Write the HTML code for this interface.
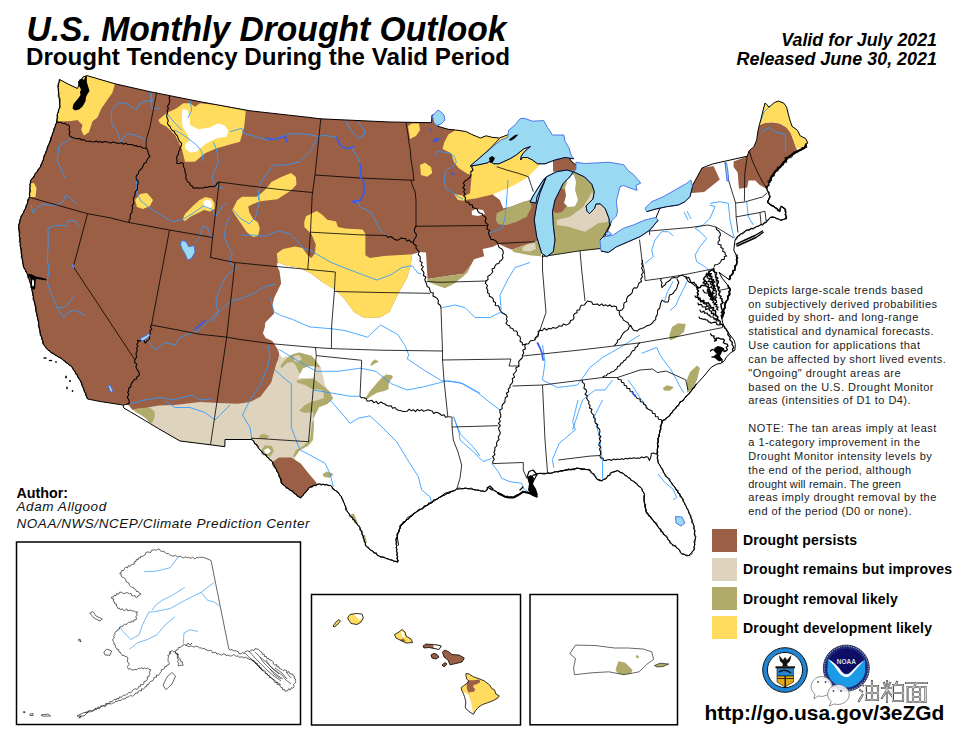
<!DOCTYPE html>
<html><head><meta charset="utf-8">
<style>
html,body{margin:0;padding:0;background:#fff;width:960px;height:735px;overflow:hidden}
svg{position:absolute;left:0;top:0;font-family:"Liberation Sans",sans-serif}
</style></head>
<body>
<svg width="960" height="735" viewBox="0 0 960 735">
<defs><clipPath id="us"><polygon points="59.4,79.4 68.0,84.0 77.5,88.5 80.0,82.0 83.0,77.0 86.9,75.6 115.0,83.8 150.0,91.7 200.0,101.7 250.0,110.8 310.0,117.5 320.0,118.8 390.0,122.0 431.6,122.7 432.0,115.0 438.0,115.0 438.1,126.4 448.3,129.3 455.6,130.0 465.8,131.5 471.7,134.4 480.4,138.0 486.2,135.8 492.0,137.3 499.4,138.0 515.0,132.0 535.0,130.0 550.0,140.0 565.0,152.0 572.0,162.0 585.0,172.0 605.0,185.0 614.0,200.0 612.0,215.0 610.5,225.0 608.0,230.0 606.0,234.0 604.0,238.0 612.0,240.0 625.0,236.0 640.0,229.0 655.0,220.0 660.0,208.0 675.0,198.0 690.0,190.0 702.0,168.0 712.5,164.0 747.2,156.2 749.2,150.7 754.0,146.7 756.7,139.9 758.1,130.3 759.4,124.9 760.8,119.5 764.9,103.2 766.9,104.5 768.9,107.2 774.4,102.5 778.5,101.1 783.9,103.2 786.6,107.2 789.3,118.1 792.0,126.3 797.5,130.3 800.2,135.8 805.6,138.5 807.7,142.6 804.3,148.0 796.1,152.1 788.0,157.5 781.2,165.7 775.7,171.1 771.7,176.6 768.9,183.4 766.9,188.8 770.0,196.2 767.5,202.5 775.0,207.5 780.0,211.2 781.2,206.2 785.0,208.8 786.2,218.8 780.0,220.0 775.0,217.5 770.0,217.5 766.2,222.5 755.0,227.5 745.0,231.2 737.5,236.2 735.0,240.0 733.8,250.0 736.1,255.0 737.1,261.1 735.1,268.3 731.0,275.4 729.0,279.5 724.0,276.0 719.0,272.3 722.0,278.0 726.0,283.0 728.0,285.6 730.0,288.7 728.0,297.9 724.9,306.0 722.9,316.2 721.8,318.0 722.8,323.2 724.3,326.5 729.2,333.9 734.1,340.4 735.3,344.5 734.9,350.2 730.8,352.7 726.7,356.7 724.3,360.8 721.0,363.3 716.9,364.1 711.2,367.3 707.1,372.2 703.1,377.1 696.6,384.1 687.9,395.0 679.2,403.7 668.3,416.8 662.0,421.7 658.0,440.0 657.1,453.6 658.0,462.1 664.8,474.0 675.0,487.6 681.8,497.8 688.6,511.4 693.7,525.0 695.4,538.6 693.7,550.5 688.6,555.6 681.8,553.9 678.4,548.8 671.6,543.7 664.8,535.2 658.0,526.7 652.9,519.9 646.1,511.4 644.4,502.9 644.4,494.4 641.0,487.6 632.5,480.8 624.0,474.0 617.2,470.6 612.1,472.3 607.0,477.4 601.9,480.8 596.8,479.1 590.0,470.0 578.3,468.3 566.7,470.0 556.7,471.7 550.0,473.3 540.0,473.3 533.3,475.0 530.0,481.7 533.3,488.3 536.7,496.7 530.0,493.3 523.3,491.7 518.3,495.0 513.3,497.5 505.0,496.7 498.3,493.3 493.3,490.0 488.3,487.5 485.0,491.7 476.7,490.0 466.7,488.3 456.7,489.2 447.8,493.4 435.3,499.6 416.5,512.0 400.8,524.7 396.0,540.3 397.7,562.2 379.0,556.0 366.4,546.6 360.0,527.8 347.6,512.0 341.4,496.5 330.4,485.5 319.5,484.0 310.0,487.0 300.7,498.0 282.0,484.0 278.8,474.6 272.5,462.0 260.0,450.0 252.5,440.0 251.0,439.5 225.0,439.5 224.8,446.7 210.5,444.8 180.0,441.0 158.8,428.8 149.4,423.1 140.0,417.5 130.6,411.9 123.8,408.1 123.1,405.0 100.0,401.5 87.5,399.0 84.0,390.0 80.0,380.0 72.0,367.0 62.0,359.0 55.0,355.0 48.0,350.0 43.8,345.0 40.0,332.0 38.6,323.3 34.8,304.3 31.0,285.2 27.2,273.8 23.3,266.2 20.5,247.1 18.6,226.2 20.5,218.6 25.2,209.0 29.4,197.3 30.4,181.0 40.6,166.7 48.8,144.3 53.9,130.0 56.9,121.2 57.5,113.8 60.0,106.0 58.1,87.5"/></clipPath></defs>
<polygon points="59.4,79.4 68.0,84.0 77.5,88.5 80.0,82.0 83.0,77.0 86.9,75.6 115.0,83.8 150.0,91.7 200.0,101.7 250.0,110.8 310.0,117.5 320.0,118.8 390.0,122.0 431.6,122.7 432.0,115.0 438.0,115.0 438.1,126.4 448.3,129.3 455.6,130.0 465.8,131.5 471.7,134.4 480.4,138.0 486.2,135.8 492.0,137.3 499.4,138.0 515.0,132.0 535.0,130.0 550.0,140.0 565.0,152.0 572.0,162.0 585.0,172.0 605.0,185.0 614.0,200.0 612.0,215.0 610.5,225.0 608.0,230.0 606.0,234.0 604.0,238.0 612.0,240.0 625.0,236.0 640.0,229.0 655.0,220.0 660.0,208.0 675.0,198.0 690.0,190.0 702.0,168.0 712.5,164.0 747.2,156.2 749.2,150.7 754.0,146.7 756.7,139.9 758.1,130.3 759.4,124.9 760.8,119.5 764.9,103.2 766.9,104.5 768.9,107.2 774.4,102.5 778.5,101.1 783.9,103.2 786.6,107.2 789.3,118.1 792.0,126.3 797.5,130.3 800.2,135.8 805.6,138.5 807.7,142.6 804.3,148.0 796.1,152.1 788.0,157.5 781.2,165.7 775.7,171.1 771.7,176.6 768.9,183.4 766.9,188.8 770.0,196.2 767.5,202.5 775.0,207.5 780.0,211.2 781.2,206.2 785.0,208.8 786.2,218.8 780.0,220.0 775.0,217.5 770.0,217.5 766.2,222.5 755.0,227.5 745.0,231.2 737.5,236.2 735.0,240.0 733.8,250.0 736.1,255.0 737.1,261.1 735.1,268.3 731.0,275.4 729.0,279.5 724.0,276.0 719.0,272.3 722.0,278.0 726.0,283.0 728.0,285.6 730.0,288.7 728.0,297.9 724.9,306.0 722.9,316.2 721.8,318.0 722.8,323.2 724.3,326.5 729.2,333.9 734.1,340.4 735.3,344.5 734.9,350.2 730.8,352.7 726.7,356.7 724.3,360.8 721.0,363.3 716.9,364.1 711.2,367.3 707.1,372.2 703.1,377.1 696.6,384.1 687.9,395.0 679.2,403.7 668.3,416.8 662.0,421.7 658.0,440.0 657.1,453.6 658.0,462.1 664.8,474.0 675.0,487.6 681.8,497.8 688.6,511.4 693.7,525.0 695.4,538.6 693.7,550.5 688.6,555.6 681.8,553.9 678.4,548.8 671.6,543.7 664.8,535.2 658.0,526.7 652.9,519.9 646.1,511.4 644.4,502.9 644.4,494.4 641.0,487.6 632.5,480.8 624.0,474.0 617.2,470.6 612.1,472.3 607.0,477.4 601.9,480.8 596.8,479.1 590.0,470.0 578.3,468.3 566.7,470.0 556.7,471.7 550.0,473.3 540.0,473.3 533.3,475.0 530.0,481.7 533.3,488.3 536.7,496.7 530.0,493.3 523.3,491.7 518.3,495.0 513.3,497.5 505.0,496.7 498.3,493.3 493.3,490.0 488.3,487.5 485.0,491.7 476.7,490.0 466.7,488.3 456.7,489.2 447.8,493.4 435.3,499.6 416.5,512.0 400.8,524.7 396.0,540.3 397.7,562.2 379.0,556.0 366.4,546.6 360.0,527.8 347.6,512.0 341.4,496.5 330.4,485.5 319.5,484.0 310.0,487.0 300.7,498.0 282.0,484.0 278.8,474.6 272.5,462.0 260.0,450.0 252.5,440.0 251.0,439.5 225.0,439.5 224.8,446.7 210.5,444.8 180.0,441.0 158.8,428.8 149.4,423.1 140.0,417.5 130.6,411.9 123.8,408.1 123.1,405.0 100.0,401.5 87.5,399.0 84.0,390.0 80.0,380.0 72.0,367.0 62.0,359.0 55.0,355.0 48.0,350.0 43.8,345.0 40.0,332.0 38.6,323.3 34.8,304.3 31.0,285.2 27.2,273.8 23.3,266.2 20.5,247.1 18.6,226.2 20.5,218.6 25.2,209.0 29.4,197.3 30.4,181.0 40.6,166.7 48.8,144.3 53.9,130.0 56.9,121.2 57.5,113.8 60.0,106.0 58.1,87.5" fill="#fff"/>
<g clip-path="url(#us)">
<polygon points="120.0,380.0 200.0,380.0 265.0,370.0 270.0,340.0 279.2,354.2 283.0,358.0 292.5,354.2 299.5,352.4 311.9,356.0 320.8,367.4 325.0,385.0 333.1,398.4 327.8,403.7 319.0,407.2 315.5,414.3 311.9,423.1 310.1,439.0 303.0,446.1 296.0,449.7 292.5,456.8 296.0,458.0 290.0,470.0 240.0,470.0 200.0,460.0 158.0,432.0 150.0,423.0 146.2,418.8 141.2,415.0 135.6,411.9 132.5,410.0 135.0,398.0 120.0,380.0" fill="#ded3bd"/>
<polygon points="0.0,50.0 476.0,50.0 476.0,160.0 486.0,175.0 493.3,195.0 500.0,200.0 503.3,208.3 510.0,206.7 523.3,201.7 530.0,200.0 533.3,196.7 537.0,200.0 540.0,240.0 535.2,241.7 522.0,246.0 511.9,249.7 503.0,246.0 498.7,243.8 492.9,246.8 482.7,249.0 484.2,256.2 474.0,259.2 471.0,265.0 463.8,273.7 447.5,276.0 427.5,279.0 426.0,252.5 420.0,252.0 412.3,254.3 410.5,265.8 407.0,278.2 399.9,290.6 394.6,301.2 389.3,311.9 380.4,317.2 364.5,318.1 353.9,311.9 345.0,299.5 336.1,290.6 322.0,281.8 311.4,273.8 299.0,267.6 286.6,265.8 277.7,262.3 276.8,265.8 279.5,271.0 281.2,283.5 274.2,297.7 272.4,304.8 274.2,313.6 265.3,322.5 264.8,327.6 262.9,333.3 265.7,338.0 272.4,341.0 274.8,344.8 278.1,350.0 279.2,354.2 278.0,360.0 276.5,363.0 271.2,382.5 260.6,396.6 250.0,402.0 238.0,403.8 219.0,402.9 200.0,401.9 175.0,405.0 158.8,405.6 150.0,406.9 146.2,408.1 136.9,408.8 132.5,410.0 129.0,405.5 126.0,404.3 122.0,404.5 115.0,405.0 115.0,410.0 0.0,410.0" fill="#9b5f45"/>
<polygon points="272.5,462.0 278.8,457.4 291.3,457.4 300.7,463.6 307.0,471.5 316.3,482.4 318.0,490.0 305.0,500.0 290.0,495.0 270.0,470.0" fill="#9b5f45"/>
<polygon points="86.9,75.6 115.0,83.8 112.5,92.5 101.2,108.8 97.5,117.5 92.5,121.2 88.8,132.5 83.8,135.6 81.2,130.0 82.5,125.0 77.5,120.0 70.0,121.2 56.0,121.2 50.0,100.0 55.0,70.0 85.0,70.0" fill="#ffdc5e"/>
<polygon points="26.0,184.0 34.0,183.0 36.5,188.0 35.5,197.0 26.0,197.0" fill="#ffdc5e"/>
<polygon points="158.3,120.0 166.7,113.0 176.7,108.3 183.3,103.3 190.0,103.3 195.0,106.7 200.0,103.3 216.7,105.0 245.8,110.8 244.2,126.7 240.0,141.7 216.7,148.3 205.0,153.3 195.0,161.7 185.0,161.7 181.7,148.3 175.0,135.0 166.7,126.7 160.0,123.3" fill="#ffdc5e"/>
<polygon points="182.5,109.2 187.5,110.0 190.0,118.3 190.0,125.0 198.3,129.2 210.0,127.5 218.3,123.3 225.0,125.8 228.3,130.8 226.7,136.7 216.7,138.3 206.7,143.3 200.0,148.3 196.7,151.7 190.0,152.5 185.0,148.3 185.0,144.2 190.0,140.0 186.7,133.3 182.5,126.7 181.7,116.7" fill="#ffffff"/>
<polygon points="135.0,200.0 140.0,194.0 147.0,193.0 153.0,200.0 150.0,206.0 143.0,209.0 137.0,207.0" fill="#ffdc5e"/>
<polygon points="182.5,219.6 185.0,214.0 188.8,210.0 194.0,205.0 199.2,200.3 205.4,197.0 211.7,198.5 214.5,203.0 214.5,209.0 210.0,211.5 204.0,210.0 197.0,213.5 190.0,217.0 185.0,221.0" fill="#ffdc5e"/>
<polygon points="203.0,202.0 207.0,199.5 211.0,201.0 212.0,206.0 209.0,209.0 205.0,207.5" fill="#ffffff"/>
<polygon points="266.5,188.2 271.4,182.0 281.2,177.1 291.0,172.9 295.9,177.1 296.5,184.5 291.0,190.6 281.2,196.7 277.5,199.2 266.5,200.4 259.2,201.6 253.0,204.1 248.2,206.5 249.4,212.6 253.0,218.8 258.0,222.4 259.8,228.5 258.0,235.9 253.0,237.1 246.9,232.2 242.0,224.9 235.9,216.3 232.2,210.2 237.1,200.4 242.0,196.7 248.2,196.7 256.7,196.7 261.6,193.0" fill="#ffdc5e"/>
<polygon points="304.3,221.6 306.0,216.2 316.7,211.0 322.0,214.5 327.3,219.8 336.1,221.6 337.9,226.9 345.0,228.6 362.7,229.5 365.4,234.0 365.4,255.2 369.8,257.9 384.0,256.1 412.3,254.3 410.5,265.8 407.0,278.2 399.9,290.6 394.6,301.2 389.3,311.9 380.4,317.2 364.5,318.1 353.9,311.9 345.0,299.5 336.1,290.6 322.0,281.8 311.4,273.8 299.0,267.6 286.6,265.8 277.7,262.3 276.8,253.4 283.0,249.0 295.4,246.4 302.5,248.1 307.8,255.2 311.4,257.9 314.9,253.4 315.8,244.6 311.4,234.0 307.8,230.4 304.3,226.9" fill="#ffdc5e"/>
<polygon points="408.0,126.0 412.0,123.4 419.0,123.4 420.0,130.0 416.0,136.0 410.0,139.0" fill="#ffdc5e"/>
<polygon points="420.0,165.0 425.0,162.8 431.0,167.0 432.3,173.0 427.0,176.7 421.0,175.0" fill="#ffdc5e"/>
<polygon points="444.0,143.0 448.3,134.4 455.6,130.0 465.8,131.5 471.7,134.4 480.4,138.0 486.2,135.8 492.0,137.3 499.4,136.0 510.0,128.0 522.0,125.0 533.0,132.0 540.0,163.3 538.3,166.7 526.7,178.3 510.0,187.5 493.3,194.2 476.7,198.3 465.0,200.0 463.3,196.7 470.0,193.3 471.7,175.0 467.3,173.8 458.5,168.0 454.0,162.0 451.2,153.3 442.5,149.0" fill="#ffdc5e"/>
<polygon points="454.0,194.0 460.0,195.0 466.0,196.0 466.0,201.0 458.0,200.0" fill="#ffdc5e"/>
<polygon points="493.3,194.2 510.0,187.5 526.7,178.3 538.3,166.7 545.0,165.0 545.0,200.0 533.3,196.7 530.0,200.0 523.3,201.7 510.0,206.7 503.3,208.3 500.0,200.0" fill="#ffffff"/>
<polygon points="495.8,220.0 496.7,213.3 506.7,208.3 520.0,203.3 530.0,200.0 531.7,206.7 526.7,216.7 516.7,221.7 506.7,225.0 498.3,224.2" fill="#b0ab6b"/>
<polygon points="471.7,211.0 476.0,209.0 483.0,210.0 485.0,214.0 478.0,216.0 472.0,215.0" fill="#ffffff"/>
<polygon points="511.9,249.7 522.0,246.0 535.2,241.7 541.0,241.0 541.0,256.2 530.8,255.5 513.3,251.9" fill="#b0ab6b"/>
<polygon points="522.0,248.0 527.0,244.5 535.0,243.0 536.0,249.0 530.0,251.5 523.0,251.0" fill="#ded3bd"/>
<polygon points="427.5,279.0 447.5,276.0 463.8,273.7 469.6,266.4 471.0,265.0 468.0,272.0 463.8,276.0 453.5,284.0 444.8,288.3 436.0,285.0 427.3,281.2" fill="#b0ab6b"/>
<polygon points="553.0,158.0 560.0,156.5 575.0,160.0 586.7,168.0 580.0,172.0 565.0,171.0 553.0,171.7" fill="#9b5f45"/>
<polygon points="553.0,175.0 573.0,170.0 590.0,178.0 595.0,190.0 600.0,200.0 612.0,212.0 610.0,240.0 602.0,249.0 580.0,251.0 542.0,257.0 548.0,240.0 552.0,200.0" fill="#b0ab6b"/>
<polygon points="553.0,191.0 558.0,188.0 564.0,189.0 567.0,195.0 566.7,206.0 562.0,212.0 556.0,213.0 553.3,211.7" fill="#9b5f45"/>
<polygon points="565.0,176.0 569.0,174.5 574.0,175.0 576.0,182.0 575.0,190.0 578.0,200.0 575.0,206.3 568.0,207.0 564.0,203.0 566.0,196.0 565.0,188.0 567.0,182.0" fill="#ffffff"/>
<polygon points="556.7,220.0 570.0,216.7 583.3,206.7 588.3,198.3 592.0,192.0 600.0,200.0 612.0,212.0 608.3,221.7 598.3,223.3 585.0,231.7 568.3,226.7 556.7,225.0" fill="#ded3bd"/>
<polygon points="689.6,187.9 702.0,168.1 713.5,166.0 719.8,179.6 704.2,192.0 691.7,193.1" fill="#9b5f45"/>
<polygon points="733.6,161.6 747.2,156.2 749.2,150.7 754.0,146.7 756.7,139.9 758.1,130.3 759.4,124.9 764.9,122.9 771.7,122.2 779.8,123.5 786.6,127.6 790.7,133.1 793.4,139.9 796.1,148.0 800.0,155.0 780.0,182.0 766.2,188.8 759.4,184.7 755.3,180.6 748.5,180.6 747.2,187.4 739.0,188.8 738.4,182.0 737.7,172.5 733.6,167.0" fill="#9b5f45"/>
<polygon points="755.0,98.0 812.0,98.0 812.0,150.0 796.1,148.0 793.4,139.9 790.7,133.1 786.6,127.6 779.8,123.5 771.7,122.2 764.9,122.9 759.4,124.9 755.0,115.0" fill="#ffdc5e"/>
<polygon points="669.4,335.0 672.0,327.0 678.0,323.2 685.7,324.0 684.0,332.0 676.0,338.0 670.0,340.6" fill="#b0ab6b"/>
<polygon points="686.8,380.0 690.0,372.0 697.0,365.6 699.9,368.0 697.0,380.0 692.0,390.0 687.0,392.8" fill="#b0ab6b"/>
<polygon points="662.9,388.0 667.0,385.2 673.8,387.0 670.0,390.7 664.0,390.5" fill="#b0ab6b"/>
<polygon points="370.0,365.3 372.7,360.9 375.4,359.6 378.9,361.8 375.4,363.2 372.0,365.5" fill="#b0ab6b"/>
<polygon points="364.8,398.9 370.0,391.0 375.4,384.8 381.6,377.7 386.0,374.6 391.3,375.0 393.0,376.8 390.4,380.4 388.6,383.9 388.6,389.2 384.2,391.0 377.1,392.7 371.0,396.3 367.4,398.9" fill="#b0ab6b"/>
<polygon points="322.6,474.0 327.0,471.5 333.6,474.0 330.0,477.7 324.0,477.0" fill="#b0ab6b"/>
<polygon points="362.0,534.0 365.0,535.0 367.0,543.0 364.0,543.5" fill="#b0ab6b"/>
<polygon points="350.8,514.0 354.0,513.7 358.6,525.0 357.0,527.8 352.0,520.0" fill="#b0ab6b"/>
<polygon points="258.8,436.0 263.0,433.8 269.5,436.0 266.0,439.0 260.0,438.6" fill="#b0ab6b"/>
<polygon points="261.5,450.0 265.0,445.3 272.0,446.0 273.9,451.0 270.0,456.8 263.0,455.0" fill="#b0ab6b"/>
<polygon points="264.0,450.0 268.0,448.0 271.0,451.0 268.0,454.0 265.0,453.0" fill="#ffffff"/>
<polygon points="133.8,409.5 141.0,408.2 149.4,407.5 154.4,411.2 155.0,416.2 152.5,422.5 150.0,423.0 146.2,418.8 141.2,415.0 135.6,411.9" fill="#b0ab6b"/>
<polygon points="280.0,366.5 285.0,360.0 290.0,356.0 292.5,354.2 299.5,352.4 311.9,356.0 315.5,360.3 320.8,367.4 314.6,366.5 308.4,366.5 306.6,371.8 299.5,373.6 296.0,366.0 293.0,362.0 287.0,363.0 282.0,368.0" fill="#b0ab6b"/>
<polygon points="294.0,356.0 299.0,355.0 302.0,359.0 298.0,362.0 294.0,361.0" fill="#ded3bd"/>
<polygon points="298.0,378.0 303.0,368.3 308.4,366.5 314.6,366.5 316.0,372.0 314.6,377.1 308.4,378.0" fill="#ffffff"/>
<polygon points="296.0,380.7 303.0,379.0 313.7,379.0 320.8,384.2 329.6,391.3 333.1,398.4 327.8,403.7 319.0,407.2 315.5,414.3 311.9,423.1 310.1,439.0 303.0,446.1 296.0,449.7 292.5,456.8 295.0,457.0 300.0,450.0 308.0,446.0 313.0,440.0 314.0,425.0 313.0,412.0 305.0,413.0 299.0,410.8 305.0,405.0 311.0,402.0 318.0,400.0 324.0,398.0 322.0,390.0 312.0,389.0 305.0,385.0 298.0,383.0" fill="#b0ab6b"/>
<polygon points="312.0,390.0 318.0,389.5 324.0,393.0 323.0,398.0 316.0,398.4 312.0,395.0" fill="#ded3bd"/>
</g>
<g fill="none" stroke="#2e9bff" stroke-width="0.85" stroke-linejoin="round">
<polyline points="150.0,92.0 152.5,101.0 146.0,101.0 140.0,103.0 136.0,110.0 127.5,103.8 118.8,102.5 111.2,111.0 112.0,125.0 117.0,130.0 120.0,140.0 121.0,143.0" />
<polyline points="151.0,94.0 151.2,107.5 155.0,109.0 160.0,108.0" />
<polyline points="121.0,141.0 127.5,133.8 135.0,135.0 142.0,138.0 146.2,140.0" />
<polyline points="71.2,138.2 59.0,146.3 57.0,160.6 65.1,178.0" />
<polyline points="31.0,205.2 32.9,212.9 37.0,208.0 42.4,204.3 50.0,205.0 57.6,205.2 63.3,201.4 65.2,195.7 68.0,196.0 71.0,199.0 76.7,203.3" />
<polyline points="78.6,226.2 74.8,220.5 70.0,220.5 67.2,221.4 67.2,226.2 62.0,225.5 55.7,225.2 48.1,228.1 48.1,247.1 47.2,258.6 49.1,270.0 47.2,281.4 50.0,291.0 57.6,308.1 63.3,317.6 69.1,311.9 74.8,310.0 86.2,315.7" />
<polyline points="57.6,308.1 65.0,307.0 70.0,302.0 73.3,296.7" />
<polyline points="135.6,190.4 140.8,200.8 151.2,209.2 161.7,215.4 172.0,221.7 182.5,219.6 193.0,213.3 203.3,206.0 211.7,209.2 215.8,216.5 222.0,207.0 226.2,203.0" />
<polyline points="136.0,177.5 137.0,187.0 135.6,190.4" />
<polyline points="211.7,238.3 207.5,228.0 203.3,225.8 199.2,238.3 195.0,242.5" />
<polyline points="230.4,215.4 226.2,223.8 224.2,236.2 228.3,246.7 232.5,253.0 229.4,262.3 236.7,267.5 226.2,275.8 220.0,288.3 215.8,300.8 218.0,313.3 211.7,321.7" />
<polyline points="276.2,284.2 266.0,286.0 255.4,292.5 240.8,298.8 230.4,300.8 222.0,309.2 215.8,313.3 207.5,321.7 199.2,330.0 192.5,332.5 180.0,337.5 175.0,345.0 165.0,342.5 155.0,350.0 150.0,342.5 149.0,339.6" />
<polyline points="129.0,404.0 145.0,400.0 160.0,397.5 172.5,400.0 192.5,395.0 200.0,400.0 212.5,398.8" />
<polyline points="165.0,401.0 175.0,407.5 190.0,407.5 205.0,412.5 215.0,420.0 230.0,405.0" />
<polyline points="252.0,440.0 250.0,427.5 242.5,415.0 250.0,400.0 260.0,385.0 267.5,367.5 270.0,355.0 268.0,345.0" />
<polyline points="275.0,370.0 284.0,378.0 291.3,383.8 291.3,405.0 291.3,427.6 300.0,450.0 310.0,455.0 325.0,463.3 330.0,473.3 333.3,486.7" />
<polyline points="240.8,235.2 255.4,235.2 265.8,236.2 278.3,231.0 290.8,234.2 297.0,240.4 303.3,248.8 309.6,249.9 330.8,262.3 348.5,269.4 362.7,274.7 376.9,280.0 391.0,274.7 401.7,267.6 412.3,265.8 417.6,272.9 421.0,274.0" />
<polyline points="270.6,297.7 272.0,305.0 274.2,311.9 281.2,315.6 292.5,319.4 309.4,326.9 331.9,328.8 345.0,330.6 367.5,337.2 380.6,325.0 397.5,334.4 405.0,345.6 408.8,355.0 407.1,358.8 425.9,371.3 441.5,380.7 460.0,382.5 477.5,392.5 490.0,402.5 500.0,410.0" />
<polyline points="442.5,307.5 455.0,305.0 465.0,307.5 475.0,317.5 490.0,317.5 500.0,312.5 505.0,314.0" />
<polyline points="278.8,349.4 290.0,356.0 305.0,365.0 316.3,371.3 338.2,371.3 360.2,368.2 375.8,371.3 391.5,383.8 407.1,390.0 422.8,387.0 435.3,383.8 447.8,380.7 463.4,383.8 480.0,393.2" />
<polyline points="313.2,390.0 332.0,393.2 350.8,396.3 360.0,396.3" />
<polyline points="330.0,400.0 341.7,413.3 350.0,423.3 358.3,418.3 370.0,415.8 383.3,428.3 396.7,441.7 406.7,458.3 418.3,476.7 421.7,490.0 430.0,496.7 431.7,503.3" />
<polyline points="454.0,418.2 460.3,434.0 472.8,446.4 480.0,456.0" />
<polyline points="453.5,416.2 459.0,432.5 460.0,440.0 473.3,451.7 483.3,461.7 491.7,458.3" />
<polyline points="491.7,463.3 498.3,471.7 501.7,478.3 510.0,481.7 521.7,483.3 523.3,488.3 530.0,493.3 535.8,496.7" />
<polyline points="230.0,131.7 241.7,128.3 243.3,133.3 256.7,136.7 266.7,140.0 276.7,138.3 286.7,135.0 290.0,133.8 300.9,133.8 309.0,134.5 318.5,136.5 324.0,135.2 336.2,137.2 339.0,142.6 341.7,146.7 347.1,148.8 353.9,146.7 352.6,150.8 356.7,154.9 359.4,161.7 360.8,167.1 360.8,178.0 363.5,180.7 364.5,192.2 360.4,200.3 352.3,201.7 358.0,203.0 360.4,207.1 365.8,209.8 371.2,212.5 375.3,220.6 379.4,228.7 386.1,235.5" />
<polyline points="258.3,200.0 260.0,183.3 266.7,173.3 273.3,165.0 286.7,165.0 300.0,161.7 310.0,151.7 315.0,142.5 320.0,136.0" />
<polyline points="213.3,141.7 216.7,150.0 218.3,163.3 213.3,173.3 211.7,180.0 216.7,186.7 223.3,188.3" />
<polyline points="175.0,130.0 183.3,135.0 196.7,145.0 201.7,151.7 203.3,161.7" />
<polyline points="166.7,113.3 175.0,123.3 181.7,130.0" />
<polyline points="190.0,100.0 191.7,110.0 188.0,118.0" />
<polyline points="257.5,188.3 259.6,200.8 255.4,217.5 249.2,223.8 240.0,218.0 232.5,209.2" />
<polyline points="345.8,120.9 351.2,130.4 358.0,138.6 364.8,134.5 364.8,130.4 358.0,122.2" />
<polyline points="434.5,156.3 438.1,151.2 449.8,153.3 454.2,156.3 456.4,162.0 452.7,166.5 445.4,170.8 444.0,179.6 446.2,188.3 451.2,191.2 458.5,197.0 463.0,199.0" />
<polyline points="508.0,180.0 507.0,195.0 506.0,208.0 505.0,218.0 502.0,228.0 493.0,232.0 487.0,233.0" />
<polyline points="530.0,262.5 515.0,267.5 507.5,280.0 500.0,295.0 501.2,310.0" />
<polyline points="542.5,345.0 545.0,362.5 542.5,380.0 557.5,387.5 577.5,385.0 590.0,367.5 602.5,357.5 620.0,347.5 640.0,335.0" />
<polyline points="572.5,430.0 582.5,400.0 595.0,390.0 605.0,390.0 612.5,380.0" />
<polyline points="578.0,400.0 572.7,421.7 575.4,429.8 559.2,443.3 552.4,459.6 553.8,467.7" />
<polyline points="602.5,400.0 594.4,416.2 600.0,440.0 602.5,462.3 602.5,478.5" />
<polyline points="658.0,474.0 664.8,482.5 673.3,489.3 676.7,497.8 673.3,499.5" />
<polyline points="645.0,263.3 653.3,256.7 651.7,250.0 655.0,240.0 661.7,231.7 668.3,231.7 673.3,235.8" />
<polyline points="710.0,205.0 715.0,206.7 710.0,218.3 703.3,225.0 695.0,228.3 700.0,231.7 706.7,238.3 700.0,246.7 695.0,255.0 696.7,261.7 705.0,266.7 710.0,271.7" />
<polyline points="728.3,203.3 730.0,220.0 733.3,235.0 735.0,238.0" />
<polyline points="710.0,203.3 720.0,201.7 728.3,203.3" />
<polyline points="684.0,212.0 688.0,220.0" />
<polyline points="687.0,211.0 691.0,219.0" />
<polyline points="746.7,201.7 748.3,216.7 753.3,225.0" />
<polyline points="664.6,301.0 667.0,293.0 670.0,287.0 673.0,281.5" />
<polyline points="670.0,310.7 676.0,305.0 679.0,298.0 682.0,292.0 685.0,286.0 686.7,281.5" />
<polyline points="760.8,134.4 764.0,130.0 768.9,127.6 774.4,131.7 785.3,134.4 785.3,145.0 785.3,152.1" />
<polyline points="760.5,122.0 764.0,112.0 768.9,107.2" />
<polyline points="641.7,353.3 656.7,347.5 660.0,355.0 665.0,362.0 670.0,368.3 675.0,377.0 680.0,386.7 684.0,393.0" />
<polyline points="628.0,380.0 634.0,388.0 640.0,398.0 648.0,408.0" />
</g>
<g fill="none" stroke="#000" stroke-width="0.8" stroke-linejoin="round">
<polyline points="57.0,121.5 58.8,122.7 61.0,122.3 62.7,123.7 65.0,123.3 66.7,124.8 68.8,125.0 69.6,127.2 68.9,129.5 70.0,131.7 69.1,134.1 70.0,136.2 72.3,137.6 74.9,138.3 77.5,138.8 79.7,138.5 81.6,140.0 83.8,139.6 85.7,141.0 87.8,141.3 90.0,141.2 92.1,141.7 94.1,141.9 96.3,141.0 98.3,142.3 100.4,141.5 102.5,142.5 104.6,141.6 106.7,141.8 108.7,142.5 110.8,142.9 112.9,142.1 115.0,142.5 117.1,143.2 119.3,143.3 121.5,142.8 123.5,144.2 125.8,143.2 127.8,144.6 130.0,144.4 132.1,144.4 134.0,145.8 136.2,145.5 138.0,146.7 140.3,146.3 142.1,147.7 144.1,148.3 146.2,148.1" stroke-width="1.05"/>
<polyline points="156.7,92.5 150.0,126.7 146.2,140.0 146.2,148.1" />
<polyline points="146.2,148.1 148.0,151.0 148.4,153.9 150.0,156.2 148.3,158.0 147.0,160.0 146.2,162.3 143.9,163.7 143.0,166.0 141.9,168.3 140.0,170.0 138.6,171.6 138.4,173.9 136.5,175.4 136.0,177.5 136.4,179.6 138.0,181.0 138.3,183.2 137.4,185.3 137.5,187.5 137.2,189.6 135.7,191.2 135.0,193.0 135.0,195.2 134.0,197.0 133.3,199.1 133.8,201.4 133.5,203.6 132.0,205.6 132.9,207.9 132.0,210.0 132.1,212.2 130.6,214.1 129.9,216.1 130.5,218.5 129.1,220.3 129.0,222.5" stroke-width="1.05"/>
<polyline points="29.4,197.3 87.6,213.7 110.0,217.8 129.0,222.5" />
<polyline points="129.0,222.5 169.5,230.0 212.5,237.5" />
<polyline points="170.0,95.8 169.1,97.8 169.8,100.2 169.4,102.3 168.8,104.4 167.5,106.4 168.4,108.7 167.0,110.7 167.5,112.9 166.7,115.0 166.8,117.0 167.7,118.9 168.2,120.9 167.4,123.1 168.3,125.0 170.0,126.3 170.8,128.5 172.1,130.2 174.2,131.2 175.0,133.3 176.4,134.8 177.6,136.4 178.1,138.5 179.0,140.3 180.1,142.0 181.7,143.3 181.4,145.6 180.0,147.5 179.9,149.8 178.6,151.8 178.5,154.1 176.9,156.0 176.7,158.3 177.1,160.8 176.7,163.3 178.9,163.8 181.1,162.6 183.3,163.3 183.2,165.5 183.9,167.5 185.0,169.5 184.8,171.7 185.7,173.7 186.2,175.8 185.6,178.0 186.7,180.0 187.7,181.9 189.7,183.0 190.4,185.2 192.4,186.3 193.3,188.3 195.3,187.9 197.3,187.7 199.3,188.3 201.3,188.0 203.3,188.0 205.3,187.0 207.3,187.4 209.3,186.5 211.3,186.6 213.3,186.7 215.7,185.7 217.0,183.2 219.2,182.0" stroke-width="1.05"/>
<polyline points="219.2,182.0 212.5,238.0" />
<polyline points="212.5,238.0 210.5,257.5 235.0,262.5" />
<polyline points="235.0,262.5 226.7,337.1 210.5,444.8" />
<polyline points="87.6,213.7 73.3,266.7 134.9,359.8" />
<polyline points="169.5,230.0 151.5,325.0" />
<polyline points="151.5,325.0 150.4,327.0 151.9,329.4 149.6,331.1 150.6,333.4 148.8,335.3 149.8,337.6 149.0,339.6 146.8,341.1 145.3,343.3 144.2,340.8 141.7,339.6 139.7,341.1 137.4,340.2 138.2,342.3 136.7,344.3 138.0,346.5 136.5,348.5 137.4,350.6 136.2,352.6 136.1,354.7 136.8,356.8 134.9,359.8" stroke-width="1.05"/>
<polyline points="134.9,359.8 134.6,362.3 136.8,364.2 135.9,366.8 136.8,369.0 138.2,371.1 139.3,373.2 139.2,375.8 137.1,376.5 136.5,378.9 134.3,379.5 133.1,381.3 131.8,382.9 130.9,384.8 130.9,387.1 128.5,388.2 128.9,390.7 127.6,392.3 128.8,394.6 127.2,397.4 128.8,399.7 129.4,403.3 126.0,404.5 123.1,405.0" stroke-width="1.05"/>
<polyline points="151.5,325.0 180.0,330.4 200.0,334.3 226.7,337.1 240.0,339.5 272.4,343.8 315.0,347.5 331.4,348.6 380.0,350.2 442.5,351.0" />
<polyline points="235.0,262.5 260.0,265.0 307.8,269.4 335.3,272.0" />
<polyline points="335.3,272.0 334.4,291.5 331.7,325.0 331.4,348.6" />
<polyline points="320.8,118.8 315.0,175.0 312.2,195.0 310.5,232.2 307.8,269.4" />
<polyline points="219.2,182.0 250.0,186.0 280.0,189.5 313.0,192.5" />
<polyline points="315.0,175.0 360.0,178.0 414.0,180.3" />
<polyline points="310.5,232.2 359.2,234.8 386.1,235.5" />
<polyline points="386.1,235.5 387.8,237.5 390.8,236.5 392.7,237.8 394.6,239.3 396.9,240.2 399.1,239.7 401.1,237.9 403.4,238.4 405.5,238.6 406.9,240.9 409.5,240.0 410.9,242.3 413.2,241.9" stroke-width="1.05"/>
<polyline points="413.2,241.9 413.8,244.2 416.2,245.5 416.0,248.2 417.6,250.0 419.3,251.9 418.2,254.6 420.0,256.4 420.3,258.8 419.9,261.0 422.2,262.6 421.1,265.1 423.3,266.7 421.5,269.3 423.0,271.1 424.0,273.1 423.4,275.5 425.9,277.0 424.8,279.5 425.4,281.6 426.5,283.5 427.0,286.2 429.4,287.9 430.0,290.6 430.8,292.5 433.4,293.1 432.9,296.0 435.0,297.0 437.2,298.4 438.4,300.5 438.0,303.5 440.0,305.0 441.0,306.9 441.0,309.0" stroke-width="1.05"/>
<polyline points="441.0,309.0 442.5,351.0 442.5,360.0 444.0,380.0 447.8,416.7" />
<polyline points="334.4,291.5 380.0,292.5 430.0,293.3" />
<polyline points="426.5,281.5 440.0,282.3 486.0,281.0" />
<polyline points="415.0,226.3 460.0,225.8 487.5,225.5" />
<polyline points="411.0,180.3 412.5,186.0 415.0,191.4 416.0,200.0 416.0,226.5" />
<polyline points="416.0,226.5 414.4,229.0 414.5,232.0 416.4,234.2 416.0,237.0 414.3,239.3 413.4,242.0" stroke-width="1.05"/>
<polyline points="406.0,122.5 407.0,128.0 408.2,135.8 409.0,143.0 410.4,150.4 410.8,158.0 411.9,165.0 413.0,172.0 414.0,180.3" />
<polyline points="473.0,165.0 471.7,167.2 473.1,170.0 470.7,172.0 471.0,174.5 470.4,176.6 468.9,178.2 467.3,179.6 464.9,181.0 463.3,183.3 464.7,185.3 462.8,187.6 464.9,189.5 463.6,191.7 465.1,193.7 463.7,195.9 465.7,197.8 465.0,200.0 466.1,202.0 468.8,202.2 469.5,204.8 472.3,204.8 472.7,207.6 475.0,208.3 477.2,209.0 478.0,211.5 479.6,213.0 482.0,213.5 483.0,215.6 485.0,216.7 486.2,218.5 485.2,220.9 485.6,222.9 488.1,224.4 487.5,226.7 486.9,229.0 489.6,230.4 488.4,232.9 489.1,234.8 490.0,236.7 490.9,239.2 493.7,239.7 495.8,240.9 497.3,242.6 498.3,245.0 499.0,247.4 501.6,248.7 503.0,250.6 503.3,253.3 502.4,255.4 503.0,257.9 501.7,260.0 499.7,261.2 498.9,263.6 496.3,264.1 495.0,266.0 494.4,268.0 492.0,269.1 492.8,271.8 491.5,273.5 490.0,275.0 487.7,276.4 488.1,279.5 486.0,281.0 485.4,283.4 487.5,285.5 486.5,288.0 487.8,290.1 487.5,292.5 489.3,293.9 489.4,296.4 491.9,297.3 493.3,299.0 493.3,301.6 495.6,302.5 495.3,305.4 498.4,305.8 499.4,307.8 500.0,310.0 501.6,312.1 503.7,313.7 506.0,315.0 507.2,316.9 506.2,319.1 507.3,320.9 506.0,323.2 507.5,325.0 509.6,325.7 510.4,328.0 512.8,328.4 513.6,330.7 516.1,330.9 517.5,332.5 517.3,335.0 519.8,336.4 520.5,338.5 520.0,341.2 522.3,342.7 522.5,345.0 526.0,344.0 524.7,346.0 525.5,348.7 522.8,350.2 523.8,353.0 522.5,355.0 522.2,358.0 520.0,360.0 518.6,361.9 518.9,364.4 518.4,366.6 515.8,368.0 516.4,370.7 515.0,372.5 513.3,374.3 514.6,377.1 512.2,378.7 512.8,381.3 511.9,383.4 510.1,385.1 510.0,387.5 508.2,389.2 508.7,391.8 506.4,393.3 507.6,396.2 505.3,397.7 505.0,400.0 504.9,402.4 502.9,404.0 501.9,406.0 502.3,408.6 499.8,410.0 500.0,412.5 500.7,414.7 500.8,416.9 499.0,419.0 500.3,421.3 498.4,423.4 500.4,425.7 498.6,427.8 499.0,430.0 500.3,432.4 499.6,435.0 498.1,436.9 499.1,439.5 497.2,441.3 496.5,443.4 496.9,445.9 494.7,447.6 495.0,450.0 494.0,452.2 495.0,454.7 492.7,456.6 494.3,459.2 492.8,461.3 492.8,463.6" stroke-width="1.05"/>
<polyline points="492.8,463.6 523.3,462.5 523.3,470.0 526.7,478.3" />
<polyline points="498.3,243.5 535.0,241.7" />
<polyline points="496.7,166.7 506.7,170.0 518.3,173.3 528.3,176.7 531.7,186.7 533.3,191.7" />
<polyline points="541.7,256.7 580.0,250.8 601.7,248.3" />
<polyline points="542.5,255.0 542.5,270.0 546.0,312.5 540.0,330.0 535.0,340.0" />
<polyline points="526.0,344.0 528.6,343.8 530.1,341.1 532.5,340.4 535.0,340.0 535.2,337.6 537.9,336.4 538.6,334.3 538.1,331.6 540.0,330.0 542.3,330.7 544.2,328.2 546.7,330.0 548.7,328.3 551.0,328.9 553.0,327.5 555.4,328.3 557.5,327.5 559.2,325.7 561.9,326.3 563.3,324.0 566.2,325.1 568.2,324.1 570.0,322.5 570.5,320.4 573.0,319.7 574.0,317.9 573.5,315.2 574.8,313.6 577.1,312.8 576.9,310.2 579.7,309.7 580.0,307.5 581.3,305.2 584.4,305.0 585.9,302.9 587.5,301.0 589.7,301.4 591.7,302.1 593.0,304.4 595.4,304.2 597.5,304.0 599.4,305.7 601.7,303.8 603.6,305.8 605.8,304.8 607.7,306.2 609.9,304.8 611.8,306.7 614.0,306.0 616.5,306.7 616.9,309.9 619.4,310.7" stroke-width="1.05"/>
<polyline points="580.0,250.8 581.7,270.0 585.0,301.0" />
<polyline points="619.4,310.7 622.2,309.7 623.9,307.2 623.7,304.9 624.2,302.9 626.7,301.5 626.5,299.2 627.7,296.5 630.1,294.8 632.2,292.6 632.7,289.5 634.1,287.8 636.8,287.9 638.0,285.9 638.9,283.0 641.6,281.5 640.7,279.1 642.4,276.9 641.5,274.5 643.4,272.4 642.5,270.0 641.5,268.0 642.7,266.0 641.6,264.0 642.5,262.0 642.0,260.0" stroke-width="1.05"/>
<polyline points="639.5,239.6 642.0,260.0 644.2,270.0 645.1,280.6" />
<polyline points="649.6,235.0 649.6,231.0 690.0,227.5 708.0,225.0 716.0,227.0" />
<polyline points="716.0,227.0 733.8,238.0" />
<polyline points="716.0,227.0 716.5,229.4 718.7,231.0 720.1,232.9 720.4,235.4 718.8,237.3 719.7,240.1 718.0,242.0 718.2,244.3 721.1,244.9 720.8,247.5 723.2,248.5 722.7,251.2 724.9,252.3 725.3,254.5 726.7,256.0 724.4,256.5 724.2,259.4 721.6,259.6 720.7,261.7 719.4,263.4 717.5,264.4 715.0,264.7 714.0,266.7" stroke-width="1.05"/>
<polyline points="645.1,280.6 661.0,278.4 680.0,275.5 714.0,268.7" />
<polyline points="714.0,268.7 718.4,290.5 729.3,288.3" />
<polyline points="661.0,278.4 660.8,280.8 662.1,283.0 661.4,285.4 662.0,287.7 663.3,286.0 665.3,284.8 666.1,282.6 668.1,281.5 670.2,280.0 671.7,278.0 674.4,277.5 677.0,278.0 678.8,276.2 682.3,274.9 684.0,276.2 685.9,277.1 687.6,280.6 689.1,282.2 691.3,282.8 693.0,284.2 695.4,286.1 698.3,286.8" stroke-width="1.05"/>
<polyline points="677.0,278.9 678.8,282.4 677.6,284.9 677.0,287.7 676.1,289.6 674.5,291.1 673.5,293.0 671.9,294.2 669.9,294.8 668.9,297.1 668.9,299.6 668.1,301.9 664.6,301.9 662.0,300.1 660.8,302.7 660.2,305.4 659.8,308.0 657.8,309.9 657.5,312.5 657.2,314.9 655.8,317.1 655.7,319.6 653.7,321.1 652.2,323.1 649.8,325.0 646.9,325.8 644.4,327.4 641.6,328.5 639.1,329.3 637.1,331.1 633.6,330.2 632.0,328.2 631.0,325.8 628.8,324.8 627.8,322.4 625.6,321.4 623.4,320.1 622.4,317.5 620.3,316.1 619.2,313.5 619.4,310.7" stroke-width="1.05"/>
<polyline points="631.0,325.8 629.1,326.9 628.4,329.2 626.7,330.6 624.7,331.6 623.3,333.3 622.0,335.0 621.0,337.1 619.8,339.0 617.5,340.1 617.2,342.7 615.5,344.3 614.0,346.0" stroke-width="1.05"/>
<polyline points="522.5,356.0 580.0,350.0 614.0,346.0 640.0,342.8 680.0,336.0 722.8,327.5" />
<polyline points="640.0,342.8 638.2,344.2 637.6,346.6 635.2,347.6 634.7,350.1 632.3,351.1 631.2,353.1 630.0,355.0 628.7,356.7 626.6,357.6 625.7,359.7 623.8,360.8 622.7,362.7 620.6,363.6 619.8,365.8 617.6,366.6 616.9,368.9 615.0,370.0 613.5,371.5 611.3,371.9 609.8,373.5 607.6,373.8 606.3,375.7 604.1,376.1 602.5,377.5" stroke-width="1.05"/>
<polyline points="512.5,386.0 542.5,385.0 582.5,380.0 602.5,377.5 617.5,377.5" />
<polyline points="442.5,360.0 511.0,359.0 509.0,366.0 520.0,366.0" />
<polyline points="360.0,396.3 361.6,397.8 364.0,397.7 366.0,398.6 367.1,401.1 369.5,401.0 371.9,400.3 373.8,402.7 376.3,401.4 378.1,403.9 380.8,402.0 382.9,403.2 385.0,404.0 386.7,405.5 388.7,406.1 391.2,405.8 392.5,408.3 395.1,407.5 396.6,409.5 398.5,410.3 400.8,410.4 402.9,411.6 405.0,411.5 407.1,411.3 409.2,409.2 411.3,410.8 413.4,409.7 415.4,411.6 417.5,409.3 419.6,410.9 421.7,409.6 423.8,411.4 425.9,410.4 428.2,409.8 430.2,410.6 432.2,411.0 433.6,413.5 436.1,412.3 438.1,412.8 440.0,414.0 441.7,415.4 444.1,414.7 445.5,417.2 447.8,416.7" stroke-width="1.05"/>
<polyline points="315.5,347.7 316.3,355.6 361.7,360.3 360.0,396.3" />
<polyline points="316.3,355.6 308.5,441.7" />
<polyline points="251.0,438.3 260.0,438.6 308.5,441.7" />
<polyline points="447.8,416.7 452.0,417.0 452.0,427.0 453.3,440.0 458.0,452.0 461.7,465.0 460.0,478.3 456.7,489.2" />
<polyline points="452.0,427.0 498.0,425.7" />
<polyline points="542.5,385.0 545.0,440.0 547.5,472.5" />
<polyline points="582.5,380.0 582.2,382.2 584.4,383.8 584.4,385.9 583.9,388.2 586.1,389.7 586.6,391.7 585.0,394.3 587.3,395.8 586.6,398.1 587.6,400.0 589.0,401.7 588.6,404.0 590.2,405.6 589.4,408.0 592.0,409.2 591.0,411.8 592.1,413.6 593.8,415.1 593.5,417.4 595.3,418.9 594.8,421.3 595.4,423.2 597.8,424.5 597.0,427.0 598.9,428.5 599.9,430.3 599.8,432.5 598.9,434.6 600.9,436.7 599.2,438.8 600.7,440.9 599.4,443.0 598.8,445.1 600.7,447.1 599.5,449.2 600.4,451.3 600.8,453.4 600.0,455.5 600.4,457.7 603.0,458.3 603.6,460.4" stroke-width="1.05"/>
<polyline points="558.3,460.0 590.0,456.1 600.0,455.5" />
<polyline points="603.6,460.4 605.6,460.6 607.6,459.7 609.6,459.5 611.7,460.4 613.6,459.0 615.7,459.8 617.6,459.0 619.7,459.4 621.7,458.7 623.7,459.4 625.7,458.2 627.7,459.0 629.7,458.1 631.7,458.5 633.7,457.7 635.8,458.3 637.8,458.1 639.8,458.2 641.7,456.9 643.8,457.8 645.8,456.8 647.8,457.0 649.5,460.4 650.4,458.2 651.1,456.0 651.2,453.6 653.5,453.1 655.7,453.9 658.0,453.6" stroke-width="1.05"/>
<polyline points="617.5,377.5 618.4,379.5 621.2,379.7 621.4,382.3 623.9,382.8 624.3,385.3 626.6,385.9 626.9,388.5 629.8,388.5 630.1,391.2 632.8,391.4 633.1,394.0 635.0,395.0 636.0,397.0 637.4,398.6 640.1,398.9 640.3,401.7 643.0,402.0 643.7,404.3 645.8,405.2 646.2,407.8 648.0,409.0 650.0,410.0 652.0,411.0 652.6,413.3 655.1,413.7 655.4,416.4 658.0,416.8 658.5,419.3 661.2,419.6 662.0,421.7" stroke-width="1.05"/>
<polyline points="617.5,377.5 640.0,370.0 652.5,369.0 657.5,372.5 666.1,371.0 685.7,379.8 688.0,390.0" />
<polyline points="725.0,162.0 729.0,181.7 731.2,188.8 735.6,203.0 736.2,217.5 738.0,232.5" />
<polyline points="747.2,156.2 744.8,173.3 744.4,201.2" />
<polyline points="749.2,150.7 752.0,160.0 757.5,172.0 762.0,181.0 766.9,188.8" />
<polyline points="735.6,203.0 745.0,201.9 762.5,196.9 767.5,192.5" />
<polyline points="736.2,216.9 760.0,212.5 765.0,211.2" />
<polyline points="760.0,212.5 761.2,225.0" />
<polyline points="765.0,211.2 766.2,222.0" />
</g>
<polygon points="59.4,79.4 68.0,84.0 77.5,88.5 80.0,82.0 83.0,77.0 86.9,75.6 115.0,83.8 150.0,91.7 200.0,101.7 250.0,110.8 310.0,117.5 320.0,118.8 390.0,122.0 431.6,122.7 432.0,115.0 438.0,115.0 438.1,126.4 448.3,129.3 455.6,130.0 465.8,131.5 471.7,134.4 480.4,138.0 486.2,135.8 492.0,137.3 499.4,138.0 515.0,132.0 535.0,130.0 550.0,140.0 565.0,152.0 572.0,162.0 585.0,172.0 605.0,185.0 614.0,200.0 612.0,215.0 610.5,225.0 608.0,230.0 606.0,234.0 604.0,238.0 612.0,240.0 625.0,236.0 640.0,229.0 655.0,220.0 660.0,208.0 675.0,198.0 690.0,190.0 702.0,168.0 712.5,164.0 747.2,156.2 749.2,150.7 754.0,146.7 756.7,139.9 758.1,130.3 759.4,124.9 760.8,119.5 764.9,103.2 766.9,104.5 768.9,107.2 774.4,102.5 778.5,101.1 783.9,103.2 786.6,107.2 789.3,118.1 792.0,126.3 797.5,130.3 800.2,135.8 805.6,138.5 807.7,142.6 804.3,148.0 796.1,152.1 788.0,157.5 781.2,165.7 775.7,171.1 771.7,176.6 768.9,183.4 766.9,188.8 770.0,196.2 767.5,202.5 775.0,207.5 780.0,211.2 781.2,206.2 785.0,208.8 786.2,218.8 780.0,220.0 775.0,217.5 770.0,217.5 766.2,222.5 755.0,227.5 745.0,231.2 737.5,236.2 735.0,240.0 733.8,250.0 736.1,255.0 737.1,261.1 735.1,268.3 731.0,275.4 729.0,279.5 724.0,276.0 719.0,272.3 722.0,278.0 726.0,283.0 728.0,285.6 730.0,288.7 728.0,297.9 724.9,306.0 722.9,316.2 721.8,318.0 722.8,323.2 724.3,326.5 729.2,333.9 734.1,340.4 735.3,344.5 734.9,350.2 730.8,352.7 726.7,356.7 724.3,360.8 721.0,363.3 716.9,364.1 711.2,367.3 707.1,372.2 703.1,377.1 696.6,384.1 687.9,395.0 679.2,403.7 668.3,416.8 662.0,421.7 658.0,440.0 657.1,453.6 658.0,462.1 664.8,474.0 675.0,487.6 681.8,497.8 688.6,511.4 693.7,525.0 695.4,538.6 693.7,550.5 688.6,555.6 681.8,553.9 678.4,548.8 671.6,543.7 664.8,535.2 658.0,526.7 652.9,519.9 646.1,511.4 644.4,502.9 644.4,494.4 641.0,487.6 632.5,480.8 624.0,474.0 617.2,470.6 612.1,472.3 607.0,477.4 601.9,480.8 596.8,479.1 590.0,470.0 578.3,468.3 566.7,470.0 556.7,471.7 550.0,473.3 540.0,473.3 533.3,475.0 530.0,481.7 533.3,488.3 536.7,496.7 530.0,493.3 523.3,491.7 518.3,495.0 513.3,497.5 505.0,496.7 498.3,493.3 493.3,490.0 488.3,487.5 485.0,491.7 476.7,490.0 466.7,488.3 456.7,489.2 447.8,493.4 435.3,499.6 416.5,512.0 400.8,524.7 396.0,540.3 397.7,562.2 379.0,556.0 366.4,546.6 360.0,527.8 347.6,512.0 341.4,496.5 330.4,485.5 319.5,484.0 310.0,487.0 300.7,498.0 282.0,484.0 278.8,474.6 272.5,462.0 260.0,450.0 252.5,440.0 251.0,439.5 225.0,439.5 224.8,446.7 210.5,444.8 180.0,441.0 158.8,428.8 149.4,423.1 140.0,417.5 130.6,411.9 123.8,408.1 123.1,405.0 100.0,401.5 87.5,399.0 84.0,390.0 80.0,380.0 72.0,367.0 62.0,359.0 55.0,355.0 48.0,350.0 43.8,345.0 40.0,332.0 38.6,323.3 34.8,304.3 31.0,285.2 27.2,273.8 23.3,266.2 20.5,247.1 18.6,226.2 20.5,218.6 25.2,209.0 29.4,197.3 30.4,181.0 40.6,166.7 48.8,144.3 53.9,130.0 56.9,121.2 57.5,113.8 60.0,106.0 58.1,87.5" fill="none" stroke="#000" stroke-width="1.0" stroke-linejoin="round"/>
<polyline points="696.6,384.1 694.9,385.3 694.7,387.7 692.3,388.3 691.9,390.6 690.1,391.7 689.5,393.7 687.9,395.0 686.0,396.0 684.7,397.6 684.1,399.9 682.6,401.3 679.9,401.5 679.2,403.7 678.7,405.8 676.4,406.3 676.0,408.4 674.7,409.8 672.5,410.5 672.5,412.9 670.4,413.6 670.1,415.9 668.3,416.8 666.4,417.6 665.6,419.8 663.0,419.8 662.0,421.7 662.1,423.6 660.5,425.2 660.0,427.0 661.4,429.2 659.4,430.7 660.0,432.8 658.8,434.4 659.7,436.5 657.5,438.0 658.0,440.0 658.7,442.0 657.0,443.8 658.6,445.9 658.2,447.8 657.0,449.7 658.0,451.7 657.1,453.6 658.2,455.6 656.9,457.9 658.1,459.9 658.0,462.1 658.6,464.0 660.3,465.3 660.5,467.4 662.4,468.6 663.2,470.4 663.2,472.7 664.8,474.0 665.2,476.1 666.6,477.3 668.7,478.2 670.1,479.4 670.1,481.8 672.0,482.8 672.1,485.0 674.1,485.9 675.0,487.6 675.6,489.6 678.1,490.4 677.8,493.1 680.2,493.9 679.9,496.6 681.8,497.8 683.5,499.1 682.9,501.5 684.7,502.7 684.8,504.8 686.5,506.1 686.4,508.3 688.1,509.5 688.6,511.4 688.8,513.2 690.2,514.7 691.2,516.2 690.7,518.4 692.4,519.7 691.5,521.9 692.4,523.5 693.7,525.0 694.3,526.9 693.6,529.0 695.4,530.7 694.3,532.8 694.2,534.8 695.9,536.6 695.4,538.6 694.4,540.5 693.9,542.4 695.1,544.6 693.8,546.5 694.7,548.6 693.7,550.5 692.0,551.4 691.8,553.7 690.5,555.0 688.6,555.6 686.1,555.9 684.2,554.0 681.8,553.9 680.2,552.5 679.8,550.3 678.4,548.8 676.4,548.0 675.6,545.4 672.7,545.8 671.6,543.7 669.7,542.9 669.7,540.6 667.8,539.8 667.7,537.5 666.7,536.0 664.8,535.2 663.0,534.3 662.9,532.1 660.6,531.6 661.0,529.0 658.8,528.4 658.0,526.7 657.2,524.7 656.3,522.7 653.7,522.0 652.9,519.9 651.1,519.0 651.0,516.8 648.7,516.3 648.0,514.5 646.4,513.5 646.1,511.4 646.3,509.2 644.8,507.2 645.8,504.8 644.4,502.9 643.7,500.8 643.7,498.6 643.5,496.5 644.4,494.4 644.0,492.5 642.2,491.2 642.3,489.1 641.0,487.6 639.3,486.8 637.8,485.8 637.2,483.6 635.7,482.6 634.4,481.4 632.5,480.8 630.6,480.2 630.1,478.0 628.0,477.7 627.1,475.9 624.9,475.8 624.0,474.0 622.6,472.6 620.3,473.0 619.1,471.1 617.2,470.6 614.8,471.9 612.1,472.3 610.2,472.9 610.1,475.4 607.6,475.4 607.0,477.4 605.7,479.2 603.2,479.1 601.9,480.8 599.1,480.6 596.8,479.1 596.2,477.2 595.2,475.6 594.2,473.9 591.7,473.5 590.4,472.1 590.0,470.0 588.1,469.3 586.0,469.8 584.2,468.8 582.1,469.8 580.2,469.0 578.3,468.3 576.2,467.8 574.6,469.8 572.6,469.6 570.7,470.1 568.5,468.7 566.7,470.0 564.6,469.9 562.8,471.4 560.6,470.5 558.8,472.2 556.7,471.7 554.3,471.5 552.3,473.1 550.0,473.3 548.0,472.5 546.0,473.7 544.0,474.2 542.0,473.7 540.0,473.3 537.7,473.5 535.7,475.0 533.3,475.0 531.9,476.4 530.8,477.9 531.2,480.2 530.0,481.7 531.5,483.0 531.3,485.2 533.2,486.3 533.3,488.3 533.6,490.1 533.9,492.0 535.0,493.5 535.7,495.2 536.7,496.7 535.3,495.3 533.0,495.7 531.4,494.6 530.0,493.3 527.9,492.1 525.4,492.6 523.3,491.7 521.4,492.5 520.3,494.4 518.3,495.0 516.2,495.0 515.3,497.3 513.3,497.5 511.3,496.7 509.1,497.6 507.2,496.0 505.0,496.7 503.1,496.3 502.1,494.1 499.6,495.0 498.3,493.3 497.0,491.6 495.3,490.6 493.3,490.0 491.3,489.9 489.7,488.9 488.3,487.5 487.3,490.1 485.0,491.7 483.1,490.7 480.8,491.2 478.9,490.0 476.7,490.0 474.6,490.2 472.8,488.9 470.9,488.0 468.6,489.2 466.7,488.3 464.7,487.9 462.7,489.1 460.7,488.3 458.6,488.0 456.7,489.2 455.1,490.5 453.4,491.4 451.2,491.4 449.9,493.2 447.8,493.4 445.8,493.8 444.4,495.5 442.3,495.7 440.8,497.3 438.6,497.3 437.4,499.4 435.3,499.6 433.3,499.9 432.6,502.4 430.9,503.2 428.5,502.9 427.9,505.5 425.7,505.5 423.8,506.0 423.2,508.6 421.4,509.3 419.2,509.3 417.6,510.2 416.5,512.0 414.6,512.6 413.1,513.7 412.5,515.9 410.5,516.3 409.6,518.1 408.4,519.5 406.0,519.5 405.5,521.8 403.1,521.7 402.7,524.1 400.8,524.7 399.5,526.2 400.6,528.4 398.8,529.8 399.5,531.9 397.3,533.1 396.9,534.9 397.7,537.0 395.7,538.3 396.0,540.3 396.9,542.1 395.8,544.0 397.3,545.7 395.8,547.7 397.1,549.4 396.0,551.3 397.8,553.0 396.4,555.0 397.9,556.7 396.4,558.6 398.6,560.3 397.7,562.2" fill="none" stroke="#000" stroke-width="0.9" stroke-linejoin="round"/>
<polyline points="766.9,188.8 767.1,190.9 769.3,192.2 768.5,194.7 770.0,196.2 769.6,198.5 767.9,200.3 767.5,202.5 769.3,203.1 770.1,205.1 771.7,205.9 774.0,205.7 775.0,207.5 777.2,208.1 777.6,210.9 780.0,211.2 779.6,208.5 781.2,206.2 782.8,207.9 785.0,208.8 785.9,210.7 786.0,212.7 784.8,214.9 786.8,216.6 786.2,218.8 784.1,218.7 782.3,220.5 780.0,220.0 778.6,218.6 776.3,219.0 775.0,217.5 772.5,216.5 770.0,217.5 769.2,219.5 766.8,220.3 766.2,222.5 764.0,222.4 763.0,225.2 760.3,224.3 759.0,226.3 756.7,226.3 755.0,227.5 753.4,229.2 750.6,228.0 749.3,230.6 746.7,229.7 745.0,231.2 744.1,233.1 742.4,233.9 740.3,233.9 739.5,236.0 737.5,236.2 737.1,238.7 735.0,240.0" fill="none" stroke="#000" stroke-width="0.9" stroke-linejoin="round"/>
<polyline points="87.5,399.0 87.2,397.1 85.6,395.6 85.9,393.4 84.4,391.9 84.0,390.0 83.4,387.9 82.1,386.1 82.0,383.8 81.1,381.9 80.0,380.0 78.5,378.7 77.5,377.0 77.6,374.7 75.4,373.9 75.3,371.7 73.7,370.5 72.7,368.8 72.0,367.0 70.9,365.4 68.8,365.1 67.9,363.4 65.9,362.9 65.1,361.0 63.1,360.5 62.0,359.0 60.6,357.4 58.3,357.3 57.0,355.6 55.0,355.0 53.6,353.2 51.1,353.1 50.0,350.9 48.0,350.0 46.3,348.5 45.4,346.5 43.8,345.0 42.6,343.3 43.3,341.1 41.6,339.6 42.1,337.4 40.4,335.9 40.1,334.0 40.0,332.0 39.9,329.8 38.7,327.7 38.3,325.6 38.6,323.3 38.7,321.3 37.6,319.6 37.8,317.5 36.8,315.8 37.0,313.7 35.9,312.0 35.7,310.1 36.1,308.0 35.8,306.1 34.8,304.3 34.8,302.3 33.6,300.6 32.9,298.7 33.6,296.6 32.5,294.8 33.1,292.7 31.9,291.0 32.2,288.9 30.7,287.3 31.0,285.2 30.8,283.1 29.2,281.6 29.8,279.3 27.8,277.8 28.3,275.6 27.2,273.8 26.0,272.0 25.5,269.9 24.0,268.3 23.3,266.2 23.4,264.2 22.5,262.4 22.8,260.4 21.9,258.6 21.3,256.7 22.0,254.7 20.9,252.9 21.7,250.8 21.3,248.9 20.5,247.1 20.0,245.2 20.6,243.3 19.3,241.5 20.1,239.5 20.1,237.6 18.9,235.7 19.8,233.8 19.8,231.8 18.6,230.0 19.1,228.1 18.6,226.2 18.6,224.2 20.0,222.5 19.4,220.3 20.5,218.6 20.8,216.4 21.8,214.5 23.6,213.0 23.9,210.7 25.2,209.0 26.1,207.1 26.2,205.0 28.0,203.4 27.3,201.0 28.0,199.0 29.4,197.3 29.9,195.5 29.3,193.7 30.3,191.9 30.5,190.1 29.4,188.2 30.4,186.5 29.5,184.6 30.9,182.8 30.4,181.0 31.3,179.2 33.0,178.1 34.4,176.7 34.6,174.4 35.6,172.7 37.5,171.6 37.8,169.5 39.2,168.1 40.6,166.7 40.5,164.7 42.3,163.4 42.2,161.4 43.8,160.1 43.3,157.9 43.9,156.2 44.4,154.4 46.0,153.0 45.9,151.1 47.3,149.6 47.2,147.6 47.8,145.9 48.8,144.3 49.9,142.7 50.5,140.9 51.2,139.1 50.9,137.0 52.4,135.5 52.4,133.5 53.6,131.9 53.9,130.0 53.9,128.1 55.5,126.6 55.2,124.6 56.6,123.1 56.9,121.2 56.7,119.3 57.8,117.6 56.8,115.6 57.5,113.8 58.8,112.0 58.2,109.7 59.9,108.1 60.0,106.0 59.3,104.2 60.1,102.3 60.0,100.4 60.0,98.5 58.5,96.8 58.2,95.0 59.0,93.0 58.2,91.2 58.6,89.3 58.1,87.5 57.8,85.4 58.4,83.4 59.6,81.5 59.4,79.4" fill="none" stroke="#000" stroke-width="0.9" stroke-linejoin="round"/>
<polyline points="397.7,562.2 396.0,561.0 393.7,561.7 392.3,559.7 390.1,560.1 388.5,558.7 386.4,558.9 384.8,557.2 382.9,556.8 380.6,557.4 379.0,556.0 377.0,555.4 376.5,552.8 373.7,553.2 373.0,550.9 370.8,550.6 369.3,549.3 368.5,547.1 366.4,546.6 365.1,545.1 365.6,543.1 363.9,541.7 364.6,539.6 362.9,538.3 363.8,536.1 361.8,534.8 362.4,532.7 362.0,530.9 359.6,529.8 360.0,527.8 359.4,526.0 357.4,525.2 356.9,523.3 354.8,522.6 355.1,520.0 352.6,519.7 352.7,517.3 350.2,516.9 349.3,515.3 349.0,513.2 347.6,512.0 346.2,510.6 345.4,508.9 346.1,506.6 344.5,505.2 344.6,503.2 343.1,501.8 343.2,499.8 341.5,498.5 341.4,496.5 339.7,495.4 339.2,493.2 337.9,491.7 336.3,490.6 334.1,490.1 332.4,489.0 332.1,486.5 330.4,485.5 328.5,485.8 326.9,484.2 324.9,485.1 323.2,483.9 321.2,485.3 319.5,484.0 317.4,483.9 315.9,486.0 313.5,484.9 312.2,487.3 310.0,487.0 308.4,488.0 308.0,490.0 306.2,490.9 305.7,492.8 303.7,493.5 303.3,495.5 301.5,496.4 300.7,498.0 298.9,497.1 297.1,496.3 296.3,494.1 294.1,493.8 293.5,491.4 291.8,490.5 289.5,490.2 288.6,488.2 286.1,488.2 285.3,486.0 284.0,484.6 282.0,484.0 280.7,482.4 281.4,480.0 281.0,478.1 278.9,476.7 278.8,474.6 278.3,472.6 276.4,471.3 276.6,468.9 274.4,467.8 273.5,466.0 272.6,464.2 272.5,462.0 271.5,460.3 269.3,459.8 268.6,457.7 266.6,457.1 266.3,454.6 263.5,454.7 262.1,453.4 261.7,451.0 260.0,450.0 258.4,448.6 258.1,446.2 257.0,444.4 254.4,443.8 254.1,441.4 252.5,440.0" fill="none" stroke="#000" stroke-width="0.9" stroke-linejoin="round"/>
<polyline points="807.7,142.6 805.5,143.7 807.0,147.2 804.3,148.0 801.9,147.3 801.4,150.4 799.0,149.7 798.1,152.1 796.1,152.1 793.7,151.9 792.3,153.4 792.2,156.8 790.6,157.9 788.0,157.5 784.8,157.6 787.0,162.2 783.1,161.8 783.6,164.9 781.2,165.7 780.6,167.8 777.2,167.1 778.2,170.9 775.7,171.1 773.6,172.4 774.6,175.9 771.7,176.6 769.8,177.8 771.7,180.6 767.7,180.9 768.9,183.4 769.3,185.6 766.0,186.4 766.9,188.8" fill="none" stroke="#000" stroke-width="0.9" stroke-linejoin="round"/>
<g fill="#9ad9f2" stroke="#3f6ae8" stroke-width="0.9">
<polygon points="470.0,166.2 480.0,157.5 490.0,148.8 501.2,140.0 507.5,137.5 508.8,130.0 515.0,125.0 520.0,118.8 523.8,118.1 532.5,121.2 543.8,120.6 547.5,127.5 552.5,135.0 563.8,135.0 565.0,141.2 568.8,147.5 571.2,155.0 573.8,158.8 565.0,157.5 555.0,160.0 545.0,163.8 537.5,163.8 532.5,160.0 527.5,157.5 522.5,157.5 520.6,160.0 521.2,156.2 523.8,152.5 527.5,148.8 530.5,146.6 523.8,148.8 516.2,155.0 510.0,158.8 498.8,163.8 493.8,163.8 490.0,161.2 487.0,163.0 477.5,165.0" />
<polygon points="546.0,177.0 556.7,171.7 566.7,170.0 573.3,171.7 570.0,176.7 563.3,183.3 560.0,190.0 555.0,200.0 552.5,211.7 553.3,225.0 555.0,240.0 553.3,251.7 546.7,256.7 541.7,253.3 536.7,236.7 534.2,220.0 536.7,205.0 540.0,193.0 544.0,183.0" />
<polygon points="530.0,202.0 533.0,196.0 538.0,188.0 544.0,179.0 546.0,178.0 541.0,188.0 537.0,197.0 536.0,203.0" />
<polygon points="573.3,171.7 575.9,169.6 575.9,162.2 584.5,163.5 596.7,162.9 609.0,162.2 623.6,164.7 628.5,170.8 633.4,174.5 640.8,183.0 635.9,185.5 637.1,190.4 629.8,188.0 623.6,185.5 620.0,186.7 617.5,196.5 616.3,201.4 617.5,211.2 616.3,216.1 611.4,221.0 609.6,225.0 609.0,218.5 605.3,208.8 600.4,203.9 596.0,204.0 594.3,208.8 589.4,213.6 587.0,211.2 586.0,206.0 590.0,202.0 593.0,199.0 594.3,191.6 591.8,184.3 584.5,176.9" />
<polygon points="605.3,233.0 609.0,231.5 611.4,234.0 608.0,236.0" />
<polygon points="600.0,240.0 603.0,237.0 605.0,236.7 613.3,235.0 623.3,228.3 633.3,225.0 645.0,220.0 655.0,217.5 658.3,220.0 650.0,230.0 640.0,236.7 628.3,241.7 616.7,246.7 608.3,252.5 601.0,251.0" />
<polygon points="646.7,211.7 655.0,209.2 666.7,206.7 678.3,205.0 685.0,201.7 690.0,196.7 692.5,186.7 690.8,180.0 686.7,183.3 675.0,190.0 663.3,196.7 651.7,201.7 645.0,208.3" />
<polygon points="181.5,240.4 186.0,241.5 188.8,246.7 194.0,245.6 195.0,251.9 191.9,258.0 187.7,260.2 184.6,252.9 182.5,249.8 180.5,245.0" />
<polygon points="675.6,516.5 682.0,517.0 685.0,523.0 681.0,526.0 676.0,523.0" />
<polygon points="432.3,116.0 435.0,113.0 438.0,110.0 441.0,112.0 444.0,115.0 445.0,120.0 441.0,124.0 437.0,125.5 434.0,123.0" />
<polygon points="108.0,386.0 110.0,385.0 113.0,391.0 111.0,392.5" />
<polygon points="725.0,163.0 726.5,163.0 728.0,172.0 728.5,181.0 727.0,181.0 726.0,172.0" />
<polygon points="72.0,265.0 73.5,264.5 74.0,267.5 72.5,268.0" />
<polygon points="140.0,339.0 143.0,337.0 147.0,335.0 149.0,333.0 149.5,336.0 146.0,339.0 142.0,341.0" />
</g>
<g fill="none" stroke="#000" stroke-width="0.9" stroke-linejoin="round">
<polyline points="499.4,138.5 490.0,148.8 480.0,157.5 470.0,166.2 477.5,165.0 487.0,163.0 490.0,161.2 493.8,163.8 498.8,163.8 510.0,158.8 516.2,155.0 523.8,148.8 530.5,146.6 527.5,148.8 523.8,152.5 521.2,156.2 520.6,160.0 522.5,157.5 527.5,157.5 532.5,160.0 537.5,163.8 545.0,163.8 555.0,160.0 565.0,157.5 573.8,158.8" />
<polyline points="546.0,177.0 556.7,171.7 566.7,170.0 573.3,171.7 570.0,176.7 563.3,183.3 560.0,190.0 555.0,200.0 552.5,211.7 553.3,225.0 555.0,240.0 553.3,251.7 546.7,256.7 541.7,253.3 536.7,236.7 534.2,220.0 536.7,205.0 540.0,193.0 544.0,183.0 546.0,177.0" />
<polyline points="530.0,202.0 533.0,196.0 538.0,188.0 544.0,179.0 546.0,178.0 541.0,188.0 537.0,197.0 536.0,203.0 530.0,202.0" />
<polyline points="573.3,171.7 584.5,176.9 591.8,184.3 594.3,191.6 593.0,199.0 590.0,202.0 586.0,206.0 587.0,211.2 589.4,213.6 594.3,208.8 596.0,204.0 600.4,203.9 605.3,208.8 609.0,218.5 609.6,225.0 607.0,230.0 605.3,233.0 603.0,237.0 600.0,240.0" />
<polyline points="601.0,251.0 608.3,252.5 616.7,246.7 628.3,241.7 640.0,236.7 650.0,230.0 658.3,220.0" />
<polyline points="646.7,211.7 655.0,209.2 666.7,206.7 678.3,205.0 685.0,201.7 690.0,196.7 692.5,186.7" />
</g>

<g fill="#000" stroke="none">
<path d="M79.5,79.5 L82,78.5 L84,80 L85.5,76 L86.8,76 L86.8,82 L88,86 L89.5,91 L87.5,94 L86,97 L85.5,101 L84,104 L82.5,106.5 L79,109.5 L75,110.5 L72.5,108.5 L73.5,104 L76,101 L78.5,98 L80.5,95 L80,92 L81,89.5 L78.5,85 L78,82 Z"/>
<path d="M27,274.5 L31,274 L36,276.5 L41,277.5 L46.5,279 L46.5,280.6 L40,279.5 L36,279 L35.5,284 L35,289.5 L32.5,289 L31,284 L30.5,278 L28,276.5 Z"/><ellipse cx="33" cy="283" rx="1" ry="3.5" fill="#fff"/>
<ellipse cx="45" cy="358" rx="2" ry="0.8"/><ellipse cx="50.5" cy="360.5" rx="1.8" ry="0.8"/><ellipse cx="56" cy="362" rx="1.2" ry="0.8"/>
<ellipse cx="66" cy="377" rx="0.9" ry="1.5"/><ellipse cx="70" cy="381" rx="1" ry="1"/><ellipse cx="67" cy="388" rx="0.8" ry="1.4"/><ellipse cx="72.5" cy="391" rx="0.8" ry="1"/>
<path d="M527,477 L531,475 L534,478 L533,484 L536,489 L538,495 L535,497 L531,494 L528,490 L529,484 Z"/>
<path d="M714.5,348 L718,346 L722,347 L724.3,349 L722,352 L720,356 L722.7,360 L719,361.5 L716,359 L713,357 L716.9,354.3 L714,351 Z"/>
<path d="M509,139.5 L515,135 L518.5,134.5 L514,139 L510,141 Z"/><path d="M489,158 L492,156 L495,158 L493,162 L490,163 Z"/>
</g>
<g fill="none" stroke="#000" stroke-linejoin="round" stroke-linecap="round">




<path stroke-width="1.4" d="M736.3,244.2 L745,240 L755,235.5 L762.5,231 M737,246 L746,242 L756,237.5 L763,232.5"/>
<path stroke-width="2.2" d="M806,145 L804.3,148 L796.1,152.1 L788,157.5 L781.2,165.7 L775.7,171.1 L771.7,176.6 L769.5,182"/>
<path stroke-width="1.2" d="M770,196.25 L767.5,202.5 L775,207.5 L780,211.25 M781.25,206.25 L785,208.75 L786.25,218.75"/>
<path stroke-width="1.0" d="M406.7,518.3 L416.7,511.7 L433.3,501.7 L445,493.3 L452,491 M398.5,545 L397,535 L401,526 L408,519"/>
<path stroke-width="2" d="M498,493 L505,496.7 L509,497.5 L513.3,497.5 L518.3,495 L523.3,491.7 L530,493.3 L536.7,496.7"/><path stroke-width="1.2" d="M529,481 L532,486 L534,494 M527,477 L529,471.5 L533,470 L537,474.5 L534,480 L531,486 M487,488 l3,-2 3,3 M520,490 l3,-3"/>
<path stroke-width="1.0" d="M556.7,471.7 L566.7,470 L578.3,468.3 L590,470 M596.8,479.1 L601.9,480.8"/>
<path stroke-width="1.0" d="M644.4,502.9 L646.1,511.4 L652.9,519.9 L658,526.7 L664.8,535.2 M675,487.6 L681.8,497.8"/>
<path stroke-width="0.9" d="M696.6,384.1 L687.9,395 L679.2,403.7 L668.3,416.8 L662,421.7 L658,440 L657.1,453.6"/>
</g>
<g fill="none" stroke="#3c5ae6" stroke-width="1.7" stroke-linecap="round" stroke-linejoin="round">
<path d="M266,138 L272,139.5 L280,138 L286,136 M285,136 L287,142"/>
<path d="M336.5,137.5 L339,142.6 L341.7,146.7 L347.1,148.8 L353.9,146.7"/>
<path d="M359.4,163 L360.8,167.1 L360.8,178 L363.5,180.7 L364.5,192.2 L360.4,200.3 L353,201.5"/>
<path d="M352.5,201.5 L356,203"/>
<path d="M195,329 L200,325 L205,321"/>
<path d="M537.5,343 L540,348 L542,353 L543,360"/>
<path d="M632,392 L635,396"/>
</g>
<g fill="#3c5ae6">
<ellipse cx="436" cy="140" rx="3.5" ry="1.6" transform="rotate(-20 436 140)"/>
<ellipse cx="452.7" cy="173.7" rx="1.6" ry="1.5"/>
<ellipse cx="431" cy="130" rx="1.2" ry="0.9"/>

</g>
<g fill="none" stroke="#000" stroke-linejoin="round" stroke-linecap="round"><polyline points="712.0,270.0 710.4,270.8 708.8,271.6 709.0,274.2 706.5,274.1 706.0,276.0 704.3,277.5 703.5,279.5 705.1,280.7 703.1,282.8 705.4,283.9 705.0,285.6 703.2,285.5 701.3,285.4 700.2,287.6 698.4,287.7 696.9,289.1 698.6,291.0 697.3,292.5 698.4,294.3 697.3,295.8 697.8,297.5 699.9,298.2 700.4,299.9 701.5,301.3 703.8,300.4 704.1,303.1 706.0,303.0 708.3,302.8 709.4,304.6 710.6,306.0 710.8,307.9 713.7,307.6 712.7,310.4 715.2,310.4 715.7,312.1 715.1,314.2 716.1,315.7 718.0,316.9 717.1,319.1 718.8,320.3 720.3,321.5 719.9,324.0 722.5,324.4 722.9,326.4" stroke-width="1.5"/><polyline points="713.7,268.3 713.0,270.4 714.4,271.8 716.6,272.9 716.0,275.0 715.4,276.9 717.8,278.0 716.2,280.0 718.4,281.2 718.0,283.0 717.0,284.7 717.0,286.2 719.3,287.5 718.2,289.2 718.8,290.7 720.1,291.9 718.9,293.8 719.2,295.3 721.1,296.3 720.2,298.2 722.2,299.2 721.8,300.9 723.1,302.5 720.9,304.4 721.2,306.1 721.4,307.8 722.0,309.5 722.9,311.1 721.3,312.4 723.5,314.4 721.2,315.5 721.8,317.2" stroke-width="1.5"/><polyline points="737.0,255.0 736.6,256.5 737.6,258.0 736.4,259.6 737.1,261.1 736.9,263.0 736.5,264.8 734.7,266.2 735.1,268.3 735.0,270.2 732.8,270.8 733.3,272.9 732.4,274.3 731.0,275.4 729.7,276.4 730.4,278.5 729.0,279.5" stroke-width="1.6"/><polyline points="728.0,285.6 728.6,287.4 730.0,288.7 730.2,290.4 729.0,291.7 729.9,293.5 729.5,295.0 727.7,296.2 728.0,297.9 727.8,299.7 726.4,301.0 725.3,302.5 724.7,304.1 724.9,306.0 725.1,307.8 723.5,309.2 723.0,310.9 724.3,312.9 722.6,314.4 722.9,316.2 721.8,318.0" stroke-width="1.7"/><polyline points="707.0,273.0 706.4,274.6 709.0,274.9 707.0,277.0 707.6,278.1 710.3,278.3 709.0,280.2 708.6,281.7 712.0,281.6 710.2,283.7 711.5,284.5 712.9,285.6 710.5,287.2 712.6,288.3 713.8,289.4 713.5,290.7 712.0,292.2 714.3,293.2 711.9,294.8 713.0,296.0" stroke-width="1.2"/><polyline points="709.0,272.0 708.6,273.6 711.5,273.5 709.7,275.9 711.9,276.2 710.7,278.2 711.8,279.0 713.5,279.6 713.5,281.0 715.0,282.1 712.3,283.8 712.9,285.1 715.0,286.0 713.5,287.6 715.5,288.6 715.0,290.0" stroke-width="1.2"/><polyline points="705.0,280.0 704.6,281.6 707.3,281.6 706.2,283.6 707.9,284.1 708.9,285.0 707.3,287.2 709.5,287.5 708.8,289.2 710.0,290.0 709.7,291.4 709.9,292.6 711.6,293.6 709.5,295.3 711.8,296.1 712.6,297.3 710.1,299.1 712.0,300.0" stroke-width="1.2"/><polyline points="710.0,275.0 709.7,276.4 712.0,276.8 711.9,278.2 711.0,279.8 713.3,280.2 711.4,282.2 713.6,282.7 711.9,284.6 714.1,285.1 713.5,286.6 714.5,287.5 713.2,288.9 713.3,290.2 716.6,291.1 715.9,292.4 716.3,293.6 716.5,294.9 714.6,296.4 716.6,297.4 714.4,298.9 716.0,300.0" stroke-width="1.2"/><polyline points="706.0,285.0 706.1,286.4 708.3,286.6 708.5,287.9 707.3,290.1 709.8,290.1 708.8,292.1 709.7,293.1 712.3,293.1 711.5,295.0 711.0,296.4 710.9,297.8 713.5,298.5 712.1,300.2 713.7,301.1 712.8,302.6 715.3,303.3 714.0,305.0" stroke-width="1.2"/><polyline points="708.0,290.0 707.3,292.0 710.6,291.5 708.8,294.2 712.2,293.6 710.3,296.4 711.7,297.1 714.2,297.1 713.1,299.3 714.5,300.0 716.4,300.8 716.7,302.0 714.3,304.3 717.0,304.7 715.8,306.6 718.2,307.1 716.5,309.1 718.0,310.0" stroke-width="1.2"/><polyline points="686.0,276.4 686.2,278.2 688.7,277.4 689.4,278.7 690.0,280.0 690.5,281.9 692.0,282.7 694.2,282.4 695.0,284.0 696.5,284.9 696.4,287.3 698.4,287.7" stroke-width="1.2"/><polyline points="695.0,296.0 695.9,297.4 698.1,297.3 698.4,299.4 700.0,300.0 700.6,301.8 703.0,301.4 703.5,303.3 705.0,304.0 706.7,304.1 706.8,306.5 708.9,305.9 709.1,308.2 711.0,308.0" stroke-width="1.2"/><polyline points="698.0,303.0 698.5,304.8 700.6,304.3 701.9,305.0 702.3,307.0 704.0,307.0 705.8,306.8 705.7,309.6 708.1,308.7 709.3,309.4 710.0,311.0 711.6,311.1 711.3,313.6 713.4,313.0 713.3,315.2 715.8,314.2 716.0,316.0" stroke-width="1.2"/><polyline points="700.0,310.0 700.7,311.7 701.9,312.2 704.0,311.0 704.4,313.1 706.0,313.0 707.5,313.4 708.1,315.1 709.8,315.1 710.2,317.0 712.0,317.0 713.7,317.1 714.0,319.2 716.2,318.5 716.3,321.0 718.0,321.0" stroke-width="1.2"/><polyline points="699.0,317.0 700.0,318.5 701.6,318.7 703.0,319.3 704.8,319.0 706.0,320.0 707.6,320.0 708.5,322.0 709.9,322.2 711.2,323.2 713.0,322.5 714.7,322.2 716.1,322.5 717.0,324.6 718.5,324.9 720.0,325.0" stroke-width="1.2"/><polyline points="703.0,290.0 703.9,291.6 705.0,292.9 707.0,293.0 708.8,293.2 708.7,295.3 709.6,296.4 711.5,296.5 712.0,298.0" stroke-width="1.2"/><polyline points="710.4,333.9 711.8,335.6 714.0,336.0 713.8,337.8 715.6,339.3 714.5,341.2 716.2,340.5 716.5,338.2 718.6,338.0 720.0,338.7 721.4,339.1 723.0,339.0 724.5,340.2 723.3,342.6 725.1,343.7 727.1,344.1 728.0,346.0 726.2,347.2 727.4,349.7 725.9,351.0 724.0,351.5 723.5,348.7 721.9,348.6 720.2,348.6 718.1,348.6 716.5,350.2 714.5,350.2 712.2,349.5 710.4,351.0" stroke-width="1.3"/><polyline points="724.3,326.5 724.8,328.2 726.4,329.3 727.0,331.0 728.2,332.4 727.8,334.5 729.0,336.0 730.3,337.4 729.7,339.6 731.0,341.0 732.4,342.4 732.0,344.5 733.0,346.0 733.7,347.7 732.4,349.3 733.0,351.0" stroke-width="1.3"/><polyline points="712.0,357.0 714.4,356.7 716.0,355.0 717.7,355.6 718.1,357.7 720.0,358.0 721.9,359.5 722.0,362.0" stroke-width="1.3"/></g>
<!-- titles -->
<text x="26.5" y="40.6" font-size="35" font-weight="bold" font-style="italic" textLength="480" lengthAdjust="spacingAndGlyphs">U.S. Monthly Drought Outlook</text>
<text x="26" y="65.3" font-size="24.2" font-weight="bold" textLength="484" lengthAdjust="spacingAndGlyphs">Drought Tendency During the Valid Period</text>
<text x="781.3" y="45.8" font-size="17.6" font-weight="bold" font-style="italic" textLength="155.7" lengthAdjust="spacingAndGlyphs">Valid for July 2021</text>
<text x="736.6" y="64.8" font-size="17.6" font-weight="bold" font-style="italic" textLength="200.4" lengthAdjust="spacingAndGlyphs">Released June 30, 2021</text>
<!-- legend -->
<rect x="712" y="529" width="25" height="23" fill="#9b5f45"/>
<rect x="712" y="558" width="25" height="23" fill="#ded3bd"/>
<rect x="712" y="587" width="25" height="23" fill="#b0ab6b"/>
<rect x="712" y="616" width="25" height="23" fill="#ffdc5e"/>
<g font-size="14" font-weight="bold" lengthAdjust="spacingAndGlyphs">
<text x="743" y="545" textLength="114">Drought persists</text>
<text x="743" y="574" textLength="209">Drought remains but improves</text>
<text x="743" y="604" textLength="154.7">Drought removal likely</text>
<text x="743" y="633" textLength="189">Drought development likely</text>
</g>
<text x="704.4" y="719.5" font-size="20" font-weight="bold" textLength="240" lengthAdjust="spacingAndGlyphs">http://go.usa.gov/3eZGd</text>
<g font-size="11" fill="#1a1a1a" lengthAdjust="spacingAndGlyphs">
<text x="748.3" y="293.6" textLength="174.6">Depicts large-scale trends based</text>
<text x="748.3" y="307.5" textLength="188.7">on subjectively derived probabilities</text>
<text x="748.3" y="321.3" textLength="170.0">guided by short- and long-range</text>
<text x="748.3" y="335.2" textLength="185.2">statistical and dynamical forecasts.</text>
<text x="748.3" y="349.0" textLength="171.7">Use caution for applications that</text>
<text x="748.3" y="362.9" textLength="197.5">can be affected by short lived events.</text>
<text x="748.3" y="376.7" textLength="152.3">&quot;Ongoing&quot; drought areas are</text>
<text x="748.3" y="390.6" textLength="185.2">based on the U.S. Drought Monitor</text>
<text x="748.3" y="404.4" textLength="162.2">areas (intensities of D1 to D4).</text>
<text x="748.3" y="432.1" textLength="188.0">NOTE: The tan areas imply at least</text>
<text x="748.3" y="446.0" textLength="171.7">a 1-category improvement in the</text>
<text x="748.3" y="459.8" textLength="183.4">Drought Monitor intensity levels by</text>
<text x="748.3" y="473.6" textLength="162.9">the end of the period, although</text>
<text x="748.3" y="487.5" textLength="152.6">drought will remain. The green</text>
<text x="748.3" y="501.4" textLength="188.0">areas imply drought removal by the</text>
<text x="748.3" y="515.2" textLength="163.2">end of the period (D0 or none).</text>
</g>
<text x="16.5" y="497.8" font-size="14" font-weight="bold" textLength="51.6" lengthAdjust="spacingAndGlyphs">Author:</text>
<g font-size="13.5" font-style="italic" fill="#111" lengthAdjust="spacingAndGlyphs">
<text x="16.5" y="511.3" textLength="89.7">Adam Allgood</text>
<text x="16.5" y="527.8" textLength="293">NOAA/NWS/NCEP/Climate Prediction Center</text>
</g>
<g fill="none" stroke="#000" stroke-width="1.5">
<rect x="16.5" y="542" width="284" height="182.5"/>
<rect x="311.5" y="594.5" width="209" height="130.5"/>
<rect x="530" y="594.5" width="147.5" height="130.3"/>
</g>
<polygon points="228.9,649.3 230.3,650.1 232.1,649.4 233.3,651.0 235.0,650.6 236.7,651.1 238.3,651.8 239.2,653.8 241.2,653.8 242.3,652.5 244.2,653.5 245.0,651.7 246.4,651.3 247.7,650.8 249.5,651.8 250.6,650.6 252.1,649.7 254.0,650.7 255.1,648.6 256.9,649.0 258.6,649.4 259.5,650.6 260.7,651.6 262.0,652.3 262.3,654.3 264.3,654.3 264.4,656.5 266.4,656.5 266.8,658.4 268.7,658.5 269.4,660.0 271.0,660.2 272.2,661.0 273.3,662.0 273.4,664.1 274.5,665.0 276.7,664.5 276.8,666.7 278.8,666.5 279.1,668.4 280.6,668.8 281.9,669.4 283.0,670.5 284.8,670.1 286.3,670.3 287.1,672.4 289.0,671.6 289.7,673.7 291.2,674.0 292.8,674.0 292.9,675.5 294.5,676.4 294.0,678.1 295.6,679.0 295.2,680.7 296.0,681.9 294.8,683.2 293.6,684.6 294.1,686.8 292.8,688.1 291.2,687.9 290.5,689.8 288.5,688.8 287.8,690.7 286.5,691.1 285.0,691.2 284.7,689.5 282.5,689.6 282.4,687.7 280.8,687.3 280.0,686.0 279.3,684.5 277.2,684.5 277.1,682.4 274.9,682.6 274.1,681.2 273.6,679.4 272.0,679.0 271.3,677.7 269.5,677.5 269.4,675.6 267.6,675.4 267.3,673.7 265.4,673.6 265.5,671.5 264.4,670.6 263.0,670.0 261.4,669.6 261.3,667.7 259.5,667.5 259.4,665.6 257.4,665.6 257.6,663.4 255.6,663.4 255.0,662.0 254.0,660.4 252.0,660.8 251.1,659.0 249.0,659.5 248.0,658.0 246.5,658.2 245.3,656.8 243.7,658.2 242.5,656.8 241.0,657.0 239.3,657.4 238.1,655.7 236.4,656.4 235.0,655.5 233.7,654.5 232.2,655.6 230.7,656.1 229.4,655.7 228.0,655.0 226.3,655.8 224.9,654.0 223.2,654.0 221.6,655.1 220.0,654.5 218.7,653.6 216.9,654.2 215.9,652.3 214.2,652.6 212.5,652.9 211.6,650.7 210.2,650.2 208.3,650.8 207.0,650.0 205.4,649.8 204.4,648.2 202.4,648.8 201.2,647.7 199.7,648.2 198.5,646.8 197.1,646.4 195.7,646.2 194.1,647.1 192.7,646.6 191.4,646.0 189.4,646.6 187.6,646.2 186.0,645.0 184.4,644.6 183.0,645.4 181.6,646.0 180.5,647.4 178.5,647.5 177.9,649.7 176.0,650.0 175.6,652.2 176.1,653.7 177.5,654.6 177.1,656.6 178.4,657.6 179.9,658.4 180.3,660.0 180.6,661.5 182.4,662.0 182.3,663.8 183.4,664.7 182.0,665.6 180.1,665.0 178.8,666.2 178.2,664.7 178.9,663.1 177.3,661.7 178.8,659.9 177.2,658.5 178.2,656.8 178.0,655.2 177.2,653.8 175.7,653.5 175.2,651.6 173.5,651.7 172.5,650.6 170.9,651.4 169.5,652.3 169.6,654.8 167.8,655.3 168.6,656.8 168.1,658.5 168.0,660.1 168.3,661.7 169.4,663.1 168.9,664.7 167.1,665.0 166.5,666.5 164.6,666.7 164.4,668.6 163.1,669.4 161.4,669.8 161.2,671.7 160.2,672.8 159.5,674.1 158.6,675.3 156.3,675.0 156.4,677.3 154.2,677.2 153.8,678.8 153.3,680.4 151.9,681.1 150.2,681.4 149.3,682.6 148.9,684.3 146.9,684.4 146.9,686.4 145.1,686.7 144.4,688.1 143.4,689.2 141.5,688.9 141.3,691.1 139.3,690.6 138.1,691.4 137.7,693.3 135.7,692.9 135.0,694.4 133.7,695.2 132.5,696.3 130.6,695.4 129.3,696.1 128.2,697.3 126.5,697.0 125.5,698.7 124.1,698.9 122.5,699.0 121.3,700.1 120.0,700.7 118.2,700.2 117.2,701.7 115.4,701.3 114.3,702.6 112.9,703.1 111.6,703.8 110.0,703.8 108.4,703.7 106.9,704.0 106.0,705.9 104.8,706.6 102.8,705.6 101.5,706.3 100.4,707.8 99.2,708.6 97.5,708.4 96.5,709.7 94.7,709.1 93.8,710.4 92.6,711.3 91.2,711.5 89.9,712.0 88.1,711.3 87.2,712.9 86.0,713.6 84.2,713.0 83.3,714.4 81.9,714.7 80.4,715.3 80.1,717.1 78.8,717.8 80.6,717.6 80.9,715.4 82.8,715.4 83.5,713.8 85.0,713.1 86.0,711.7 88.0,712.9 88.7,710.7 90.2,710.4 92.0,711.0 93.2,710.2 94.7,710.1 95.5,708.0 97.3,708.7 98.1,706.8 100.0,707.6 100.8,705.7 102.6,706.2 103.8,705.3 105.4,705.3 106.0,703.1 108.0,703.8 109.4,703.3 110.1,701.3 112.0,701.8 113.0,700.4 114.1,699.3 116.2,700.0 116.9,698.2 118.9,698.8 119.5,696.8 121.5,697.4 122.5,696.0 123.6,694.9 125.4,695.3 126.6,694.5 127.9,693.7 128.8,692.4 130.7,692.8 131.8,691.8 132.6,690.2 133.8,689.3 135.2,688.8 137.1,689.3 138.1,688.1 138.7,686.6 140.5,686.3 140.7,684.4 142.9,684.5 144.0,683.6 143.9,681.4 145.9,681.3 147.0,680.3 147.5,678.8 147.1,677.1 149.1,676.3 149.1,674.8 150.0,673.6 149.1,671.9 150.6,670.9 150.6,669.4 149.0,669.3 147.7,667.9 145.8,668.9 144.4,667.8 143.0,669.0 141.1,667.5 139.8,668.9 138.1,668.4 136.7,669.8 135.0,669.4 133.4,669.9 131.9,670.2 130.3,668.5 128.8,669.4 127.7,667.9 127.6,666.4 129.1,664.6 128.9,663.0 127.1,661.7 127.7,660.0 127.7,657.5 126.6,656.5 124.9,656.5 124.0,655.2 122.2,655.5 121.2,654.2 120.7,652.6 118.8,651.9 118.9,649.8 117.0,649.2 116.3,647.7 115.0,646.7 115.5,644.9 113.8,644.1 114.0,642.4 113.1,641.2 112.6,639.4 114.3,638.0 113.6,636.2 114.9,634.7 114.7,633.0 115.6,631.7 117.1,631.1 117.7,629.5 119.5,629.1 119.6,627.0 121.2,626.5 122.8,626.3 123.7,624.9 124.9,624.1 126.7,624.4 127.7,623.2 128.8,622.0 130.6,622.5 131.5,620.9 133.5,621.8 134.2,619.7 135.9,620.0 136.7,618.4 135.7,616.6 137.4,615.2 136.4,613.3 137.5,611.8 135.7,612.2 134.3,610.9 132.6,611.2 131.1,610.2 129.4,610.2 127.8,610.9 126.7,608.8 125.0,610.4 123.5,610.3 122.3,608.6 120.6,609.9 119.4,608.2 117.9,608.5 117.6,607.0 116.2,606.1 116.8,604.2 114.6,603.7 114.7,602.0 113.2,601.3 113.8,599.0 111.8,598.6 111.4,597.1 113.2,597.1 114.0,595.3 116.0,595.7 116.7,593.6 118.7,594.2 119.5,592.2 121.2,592.2 122.7,593.1 124.3,593.6 126.2,592.7 127.9,592.8 129.4,593.8 131.1,593.5 131.8,595.7 133.3,595.9 134.9,595.7 135.8,597.4 137.5,597.1 138.1,595.5 139.9,595.1 140.8,593.8 139.2,593.2 138.4,591.6 136.5,591.5 135.9,589.6 134.3,589.0 133.5,587.6 131.7,587.2 130.5,586.2 129.4,585.1 129.1,583.2 127.7,582.4 126.0,581.8 125.9,580.0 125.0,578.7 123.9,577.7 122.3,577.1 121.1,576.1 121.2,574.0 119.6,573.4 121.2,572.6 121.6,570.6 123.9,570.4 124.5,568.6 125.5,567.2 127.5,567.8 128.2,565.8 130.1,566.3 131.1,564.9 132.6,564.5 134.2,564.0 134.1,561.9 136.0,561.7 136.0,559.7 138.1,559.8 138.4,558.0 140.4,558.0 140.8,556.3 142.6,556.4 143.9,555.6 145.2,554.8 145.8,552.7 147.2,552.0 149.0,552.2 150.8,552.4 151.6,550.2 153.3,550.1 154.8,549.7 156.7,550.3 157.9,549.0 159.4,549.1 160.2,550.6 161.4,551.4 163.1,551.2 164.4,551.6 165.3,553.0 166.6,553.8 168.3,553.3 169.5,554.6 170.8,555.4 172.2,556.0 173.7,556.0 175.4,555.4 176.7,556.3 178.1,557.1 179.7,556.2 181.1,556.4 182.4,557.9 183.9,557.7 185.5,556.6 186.8,558.0 188.3,557.2 189.7,558.0 191.2,558.2 192.6,557.0 194.1,558.7 195.6,558.6 196.9,557.1 198.5,558.0 199.9,557.0 201.4,557.5 202.8,557.1 211.0,560.4" fill="#fff" stroke="#000" stroke-width="0.6" stroke-linejoin="round"/>
<polygon points="89.7,613.0 93.0,611.6 96.0,616.0 102.2,619.0 100.0,621.0 94.0,618.0" fill="#fff" stroke="#000" stroke-width="0.6"/>
<polygon points="103.8,652.0 107.0,649.0 111.6,651.0 110.0,655.3 105.0,655.0" fill="#fff" stroke="#000" stroke-width="0.6"/>
<polygon points="163.0,685.0 167.0,677.0 172.0,672.5 175.6,676.0 172.0,684.0 166.0,689.7" fill="#fff" stroke="#000" stroke-width="0.6"/>
<polygon points="77.0,716.0 83.0,713.0 88.0,712.0 84.0,716.0" fill="#fff" stroke="#000" stroke-width="0.6"/>
<polygon points="23.0,712.0 25.0,711.6 25.0,713.0" fill="#fff" stroke="#000" stroke-width="0.6"/>
<polygon points="30.0,714.0 33.0,713.5 33.0,715.5 30.0,715.5" fill="#fff" stroke="#000" stroke-width="0.6"/>
<polygon points="41.0,715.0 48.0,714.0 50.6,716.0 43.0,716.2" fill="#fff" stroke="#000" stroke-width="0.6"/>
<polygon points="78.0,640.0 80.0,639.0 81.0,642.0" fill="#fff" stroke="#000" stroke-width="0.6"/>
<g fill="none" stroke="#3b9cf0" stroke-width="0.7">
<polyline points="214.2,582.4 201.2,592.2 184.8,600.4 170.2,608.5 153.8,611.8 149,612 142.4,624.8 139.2,634.6 131,639.5 122.8,631.4 120,627"/>
<polyline points="184.8,587.3 171.8,595.5 162,600.4 155.5,605.3 152.2,610.2"/>
<polyline points="201.2,592.2 207.7,600.4 214.2,602 220.7,606.9"/>
<polyline points="175,616.7 165.3,624.8 157.1,634.6 147.3,639.5 137.5,642.8 129.4,649.3"/>
<polyline points="144,571.8 157.1,571 170.2,567.7 175,561.2 178,557"/>
<polyline points="183.2,644.4 184,633 189.7,629.7 197.9,631.4"/>
</g>
<path d="M245,653 l5,5 6,5 5,6 7,6 6,5 7,5 M249,651 l6,7 6,6 7,7 6,5 7,5 M255,652 l4,4 5,7 6,6 7,6 6,4 M260,657 l6,5 7,7 6,5 M266,660 l4,6 6,5 6,4 M252,660 l6,6 5,5 M270,669 l5,6 6,4 M275,668 l7,5 5,6 M282,675 l4,5 5,4 M286,672 l5,6" fill="none" stroke="#000" stroke-width="0.55"/>
<path d="M186,646 l2,-3 2,2 2,-2 M177,653 l2,2 M170,651 l1,3" fill="none" stroke="#000" stroke-width="0.6"/>
<polygon points="333.0,626.0 336.0,622.0 339.0,619.5 340.5,621.0 337.0,625.0 334.0,627.0" fill="#ffdc5e"/>
<polygon points="333.0,626.0 336.0,622.0 339.0,619.5 340.5,621.0 337.0,625.0 334.0,627.0" fill="none" stroke="#000" stroke-width="0.8" stroke-linejoin="round"/>
<polygon points="347.5,618.0 350.0,614.5 356.0,613.5 362.0,614.0 363.4,618.0 361.0,622.0 357.0,624.5 351.0,623.5" fill="#ffdc5e"/>
<clipPath id="c27"><polygon points="347.5,618.0 350.0,614.5 356.0,613.5 362.0,614.0 363.4,618.0 361.0,622.0 357.0,624.5 351.0,623.5"/></clipPath>
<polygon points="354.0,614.0 362.0,614.0 363.0,618.0 359.0,620.0" fill="#fff" clip-path="url(#c27)"/>
<polygon points="347.5,618.0 350.0,614.5 356.0,613.5 362.0,614.0 363.4,618.0 361.0,622.0 357.0,624.5 351.0,623.5" fill="none" stroke="#000" stroke-width="0.8" stroke-linejoin="round"/>
<polygon points="394.5,634.5 399.0,632.0 402.0,629.5 405.0,632.0 406.0,636.0 411.0,639.0 412.7,642.5 406.0,643.0 400.0,640.0 396.0,638.0" fill="#ffdc5e"/>
<clipPath id="c31"><polygon points="394.5,634.5 399.0,632.0 402.0,629.5 405.0,632.0 406.0,636.0 411.0,639.0 412.7,642.5 406.0,643.0 400.0,640.0 396.0,638.0"/></clipPath>
<polygon points="401.0,631.0 404.0,632.5 405.0,637.0 402.0,637.0" fill="#fff" clip-path="url(#c31)"/>
<clipPath id="c33"><polygon points="394.5,634.5 399.0,632.0 402.0,629.5 405.0,632.0 406.0,636.0 411.0,639.0 412.7,642.5 406.0,643.0 400.0,640.0 396.0,638.0"/></clipPath>
<polygon points="400.0,640.0 403.0,638.5 406.0,641.0 402.0,642.0" fill="#9b5f45" clip-path="url(#c33)"/>
<polygon points="394.5,634.5 399.0,632.0 402.0,629.5 405.0,632.0 406.0,636.0 411.0,639.0 412.7,642.5 406.0,643.0 400.0,640.0 396.0,638.0" fill="none" stroke="#000" stroke-width="0.8" stroke-linejoin="round"/>
<polygon points="423.0,646.0 426.0,644.0 432.0,644.5 438.0,645.0 441.3,646.0 439.0,649.5 434.0,648.5 429.0,647.5 424.0,648.0" fill="#9b5f45"/>
<clipPath id="c37"><polygon points="423.0,646.0 426.0,644.0 432.0,644.5 438.0,645.0 441.3,646.0 439.0,649.5 434.0,648.5 429.0,647.5 424.0,648.0"/></clipPath>
<polygon points="433.0,645.0 441.0,645.5 439.0,649.5 434.0,648.0" fill="#fff" clip-path="url(#c37)"/>
<polygon points="423.0,646.0 426.0,644.0 432.0,644.5 438.0,645.0 441.3,646.0 439.0,649.5 434.0,648.5 429.0,647.5 424.0,648.0" fill="none" stroke="#000" stroke-width="0.8" stroke-linejoin="round"/>
<polygon points="431.0,655.0 434.0,653.3 437.0,654.5 439.0,657.0 436.0,659.0 432.0,658.0" fill="#9b5f45"/>
<polygon points="431.0,655.0 434.0,653.3 437.0,654.5 439.0,657.0 436.0,659.0 432.0,658.0" fill="none" stroke="#000" stroke-width="0.8" stroke-linejoin="round"/>
<polygon points="442.5,652.0 445.0,650.0 449.0,652.0 452.0,654.5 459.0,655.0 464.3,658.0 462.0,662.0 456.0,663.5 450.0,664.8 448.0,660.0 444.0,657.0" fill="#9b5f45"/>
<polygon points="442.5,652.0 445.0,650.0 449.0,652.0 452.0,654.5 459.0,655.0 464.3,658.0 462.0,662.0 456.0,663.5 450.0,664.8 448.0,660.0 444.0,657.0" fill="none" stroke="#000" stroke-width="0.8" stroke-linejoin="round"/>
<polygon points="442.0,665.0 445.0,662.5 447.0,664.0 444.0,667.0" fill="#9b5f45"/>
<polygon points="442.0,665.0 445.0,662.5 447.0,664.0 444.0,667.0" fill="none" stroke="#000" stroke-width="0.8" stroke-linejoin="round"/>
<polygon points="466.2,673.4 469.3,674.1 473.4,676.8 479.5,678.9 484.3,680.9 489.7,685.0 491.7,688.4 494.5,689.8 495.8,693.9 499.2,695.9 497.9,697.9 493.1,700.7 487.7,702.7 482.2,704.7 478.1,707.5 475.4,710.9 473.4,714.3 470.0,712.2 465.9,708.8 465.2,706.8 465.9,702.0 464.5,696.6 463.2,693.2 461.8,690.4 461.1,687.7 463.8,685.7 466.6,683.6 468.6,680.9 466.6,678.9 465.9,675.5" fill="#ffdc5e"/>
<clipPath id="c47"><polygon points="466.2,673.4 469.3,674.1 473.4,676.8 479.5,678.9 484.3,680.9 489.7,685.0 491.7,688.4 494.5,689.8 495.8,693.9 499.2,695.9 497.9,697.9 493.1,700.7 487.7,702.7 482.2,704.7 478.1,707.5 475.4,710.9 473.4,714.3 470.0,712.2 465.9,708.8 465.2,706.8 465.9,702.0 464.5,696.6 463.2,693.2 461.8,690.4 461.1,687.7 463.8,685.7 466.6,683.6 468.6,680.9 466.6,678.9 465.9,675.5"/></clipPath>
<polygon points="468.6,680.2 474.0,680.2 479.5,679.6 480.2,682.3 476.8,684.3 473.4,685.0 473.4,687.7 475.4,689.1 474.0,691.8 468.6,692.5 467.2,689.8 466.6,685.7 467.0,682.0" fill="#9b5f45" clip-path="url(#c47)"/>
<clipPath id="c49"><polygon points="466.2,673.4 469.3,674.1 473.4,676.8 479.5,678.9 484.3,680.9 489.7,685.0 491.7,688.4 494.5,689.8 495.8,693.9 499.2,695.9 497.9,697.9 493.1,700.7 487.7,702.7 482.2,704.7 478.1,707.5 475.4,710.9 473.4,714.3 470.0,712.2 465.9,708.8 465.2,706.8 465.9,702.0 464.5,696.6 463.2,693.2 461.8,690.4 461.1,687.7 463.8,685.7 466.6,683.6 468.6,680.9 466.6,678.9 465.9,675.5"/></clipPath>
<polygon points="460.0,692.0 465.2,692.5 468.6,695.2 470.6,700.7 472.0,706.1 472.7,711.5 473.0,716.0 460.0,716.0" fill="#fff" clip-path="url(#c49)"/>
<polygon points="466.2,673.4 469.3,674.1 473.4,676.8 479.5,678.9 484.3,680.9 489.7,685.0 491.7,688.4 494.5,689.8 495.8,693.9 499.2,695.9 497.9,697.9 493.1,700.7 487.7,702.7 482.2,704.7 478.1,707.5 475.4,710.9 473.4,714.3 470.0,712.2 465.9,708.8 465.2,706.8 465.9,702.0 464.5,696.6 463.2,693.2 461.8,690.4 461.1,687.7 463.8,685.7 466.6,683.6 468.6,680.9 466.6,678.9 465.9,675.5" fill="none" stroke="#000" stroke-width="0.8" stroke-linejoin="round"/>
<clipPath id="prc"><polygon points="575.5,645.1 595.0,645.5 614.5,648.0 627.9,648.0 643.1,649.0 651.7,651.8 653.6,659.4 646.9,664.2 639.3,671.8 624.0,674.7 608.8,671.8 591.7,672.8 574.5,674.7 573.6,668.0 575.5,658.5 569.8,653.7"/></clipPath>
<polygon points="575.5,645.1 595.0,645.5 614.5,648.0 627.9,648.0 643.1,649.0 651.7,651.8 653.6,659.4 646.9,664.2 639.3,671.8 624.0,674.7 608.8,671.8 591.7,672.8 574.5,674.7 573.6,668.0 575.5,658.5 569.8,653.7" fill="#fff"/>
<polygon points="618.3,661.3 625.0,662.5 632.6,669.9 630.0,676.0 618.3,674.0 615.5,669.9" fill="#b0ab6b" clip-path="url(#prc)"/>
<polygon points="635.5,657.0 637.0,654.7 639.3,657.0 638.0,658.5" fill="#b0ab6b"/>
<polygon points="575.5,645.1 595.0,645.5 614.5,648.0 627.9,648.0 643.1,649.0 651.7,651.8 653.6,659.4 646.9,664.2 639.3,671.8 624.0,674.7 608.8,671.8 591.7,672.8 574.5,674.7 573.6,668.0 575.5,658.5 569.8,653.7" fill="none" stroke="#000" stroke-width="0.6"/>
<polygon points="654.5,665.5 660.0,663.2 668.8,664.0 663.0,666.5 657.0,667.0" fill="#b0ab6b" stroke="#000" stroke-width="0.6"/>
<!-- DOC seal -->
<g>
<circle cx="785" cy="670" r="22.3" fill="#1e86d4" stroke="#111" stroke-width="1"/>
<circle cx="785" cy="670" r="17.6" fill="#fff" stroke="#111" stroke-width="1"/>
<path d="M779,655 L783,660 L785,657 L787,660 L791.5,655 L790,661 L787,664 L788,666.5 L782,666.5 L783,664 L780,661 Z" fill="#111"/>
<rect x="775.5" y="666.3" width="19.5" height="2" fill="#111"/>
<path d="M777,668.3 L793.5,668.3 L793.5,676 L777,676 Z" fill="#1e86d4" stroke="#111" stroke-width="0.6"/>
<path d="M777,676 L793.5,676 L793.5,682 L788,685 L785,687 L782,685 L777,682 Z" fill="#e4a814" stroke="#111" stroke-width="0.6"/>
<path d="M779,672 Q785,668 791,673" fill="none" stroke="#111" stroke-width="1.6"/>
<line x1="785.2" y1="676" x2="785.2" y2="687" stroke="#111" stroke-width="1.4"/>
<line x1="777" y1="678.5" x2="793.5" y2="678.5" stroke="#111" stroke-width="0.8"/>
</g>
<!-- NOAA -->
<g>
<circle cx="846.3" cy="668.1" r="23" fill="#1c2a78" stroke="#223" stroke-width="0.8"/>
<circle cx="846.3" cy="668.1" r="22" fill="none" stroke="#9aa3c8" stroke-width="1.2" stroke-dasharray="1.2 1.3"/>
<circle cx="846.3" cy="668.1" r="19.3" fill="#0e0e66"/>
<path d="M827.2,671 A19.3,19.3 0 0 0 865.4,671 L865,660 Q858,665 851,672 Q846,676 842,672 Q835,663 828,659 Z" fill="#1b9ae6"/>
<path d="M828,659 Q836,663 842,672 Q846,677 851,672 Q858,664 865,659.5 Q858,667 851,675 Q846,680 840,674 Q834,665 828,659 Z" fill="#fff"/>
<text x="846.3" y="664" font-size="6.5" fill="#ddd" text-anchor="middle" font-weight="bold">NOAA</text>
</g>
<!-- WeChat watermark -->
<g fill="#fff" fill-opacity="0.85" stroke="#666" stroke-width="0.7">
<path d="M821.9,676.5 a11,10 0 1 1 -4,19.5 l-4,3 1,-5 a11,10 0 0 1 7,-17.5 z"/>
<path d="M837.2,684.5 a11.5,10 0 1 1 -3,19.5 l-5,2 2,-4.5 a11.5,10 0 0 1 6,-17 z"/>
</g>
<g fill="#444"><circle cx="818" cy="682" r="0.9"/><circle cx="825.5" cy="682" r="0.9"/><circle cx="833.5" cy="691" r="0.9"/><circle cx="841" cy="691" r="0.9"/></g>
<g fill="none" stroke="#4a4a4a" stroke-width="2.1" stroke-linecap="square">
<!-- 油 -->
<path d="M861,684 l2,1.5 M860,690 l2,1.5 M859,701 l3.5,-6"/>
<path d="M866,686 h12 v14 h-12 z M872,681 v19 M866,693 h12"/>
<!-- 粕 -->
<path d="M884,683 l1.5,3 M890,683 l-1.5,3 M882,688 h10 M887,681 v21 M887,690 l-5,8 M887,690 l5,6"/>
<path d="M897,682 l-1.5,3 M893,685 h10 v16 h-10 z M893,693 h10"/>
<!-- 面 -->
<path d="M906,683 h21 M916,683 l-2,4 M907.5,687 h18 v15 h-18 z M913,687 v15 M920,687 v15 M913,692 h7 M913,697 h7"/>
</g><g fill="none" stroke="#f4f4f4" stroke-width="0.8" stroke-linecap="square">
<!-- 油 -->
<path d="M861,684 l2,1.5 M860,690 l2,1.5 M859,701 l3.5,-6"/>
<path d="M866,686 h12 v14 h-12 z M872,681 v19 M866,693 h12"/>
<!-- 粕 -->
<path d="M884,683 l1.5,3 M890,683 l-1.5,3 M882,688 h10 M887,681 v21 M887,690 l-5,8 M887,690 l5,6"/>
<path d="M897,682 l-1.5,3 M893,685 h10 v16 h-10 z M893,693 h10"/>
<!-- 面 -->
<path d="M906,683 h21 M916,683 l-2,4 M907.5,687 h18 v15 h-18 z M913,687 v15 M920,687 v15 M913,692 h7 M913,697 h7"/>
</g>

</svg>
</body></html>
